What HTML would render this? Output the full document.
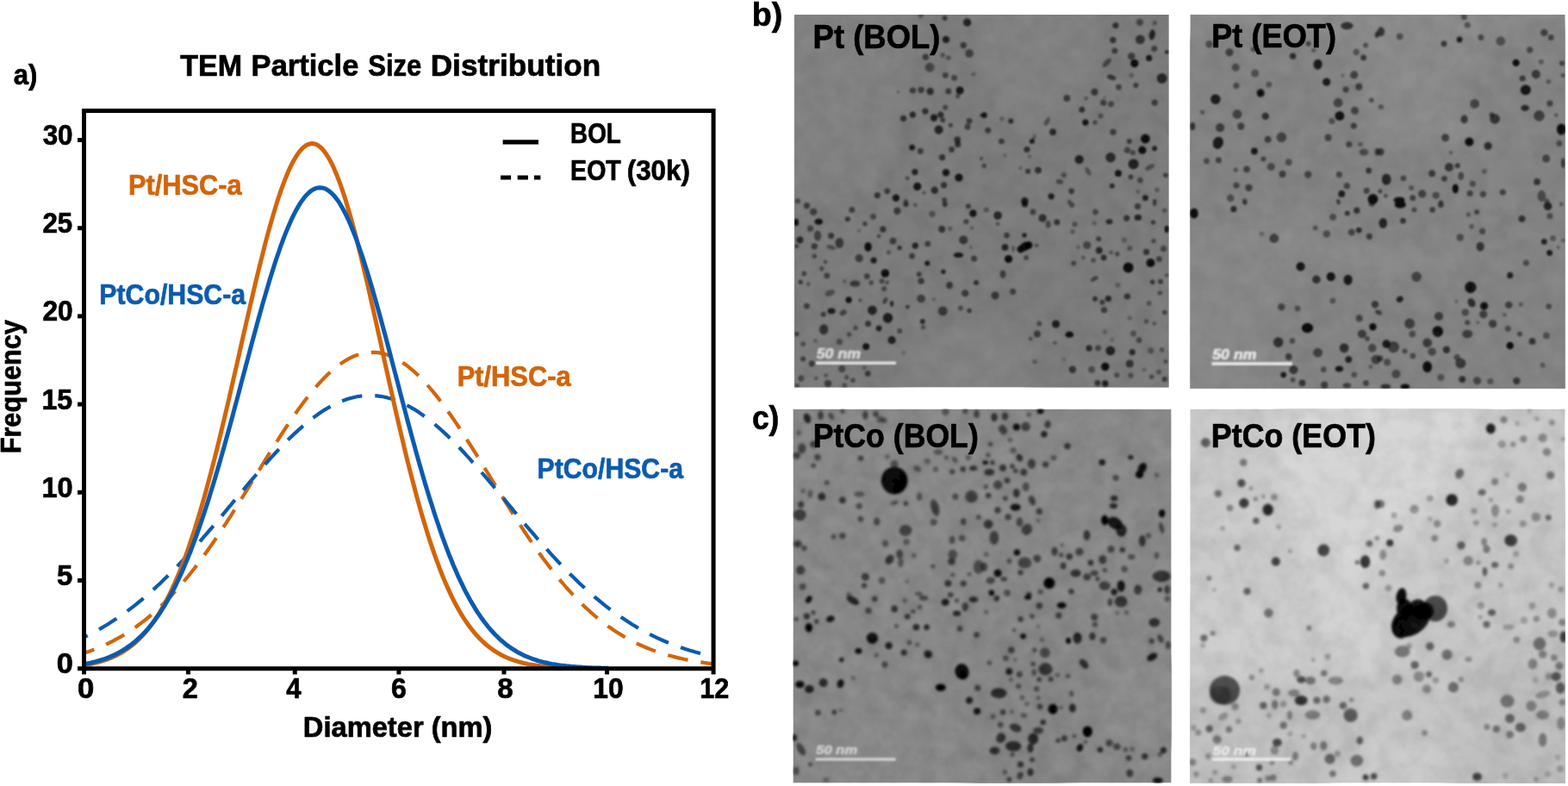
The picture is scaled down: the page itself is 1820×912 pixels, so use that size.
<!DOCTYPE html>
<html lang="en"><head><meta charset="utf-8"><title>TEM Particle Size Distribution</title>
<style>html,body{margin:0;padding:0;background:#fff;overflow:hidden}svg{display:block}text{font-family:"Liberation Sans",sans-serif;font-weight:bold}</style></head><body>
<svg width="1820" height="912" viewBox="0 0 1820 912">
<rect width="1820" height="912" fill="#fff"/>
<defs>
<filter id="pbbl" filterUnits="userSpaceOnUse" x="900" y="0" width="920" height="912"><feGaussianBlur stdDeviation="1.25"/></filter>
<filter id="pbbr" filterUnits="userSpaceOnUse" x="900" y="0" width="920" height="912"><feGaussianBlur stdDeviation="1.25"/></filter>
<filter id="pbcl" filterUnits="userSpaceOnUse" x="900" y="0" width="920" height="912"><feGaussianBlur stdDeviation="1.6"/></filter>
<filter id="pbcr" filterUnits="userSpaceOnUse" x="900" y="0" width="920" height="912"><feGaussianBlur stdDeviation="1.5"/></filter>
<filter id="bg" x="-20%" y="-20%" width="140%" height="140%"><feGaussianBlur stdDeviation="9"/></filter>
<filter id="eb" filterUnits="userSpaceOnUse" x="900" y="0" width="920" height="912"><feGaussianBlur stdDeviation="0.75"/></filter>
<filter id="nz" filterUnits="userSpaceOnUse" x="900" y="0" width="920" height="912"><feTurbulence type="fractalNoise" baseFrequency="0.045" numOctaves="3" seed="7" result="t"/><feColorMatrix in="t" type="matrix" values="0 0 0 0 0  0 0 0 0 0  0 0 0 0 0  1.6 0 0 0 -0.55"/></filter>
<filter id="nw" filterUnits="userSpaceOnUse" x="900" y="0" width="920" height="912"><feTurbulence type="fractalNoise" baseFrequency="0.05" numOctaves="3" seed="23" result="t"/><feColorMatrix in="t" type="matrix" values="0 0 0 0 1  0 0 0 0 1  0 0 0 0 1  0 1.6 0 0 -0.55"/></filter>
<filter id="sb" x="-5%" y="-5%" width="110%" height="110%"><feGaussianBlur stdDeviation="1.0"/></filter>
<clipPath id="cbl"><rect x="922" y="17" width="434.5999999999999" height="432.6"/></clipPath>
<clipPath id="cbr"><rect x="1381.4" y="17" width="435.1999999999998" height="433.8"/></clipPath>
<clipPath id="ccl"><rect x="920.5" y="474.8" width="439.0999999999999" height="433.7"/></clipPath>
<clipPath id="ccr"><rect x="1381.3" y="474.7" width="435.29999999999995" height="433.8"/></clipPath>
</defs>
<g filter="url(#eb)"><g clip-path="url(#cbl)">
<rect x="922" y="17" width="434.5999999999999" height="432.6" fill="#818181"/>
<g filter="url(#bg)">
<polygon points="1064.7,-4.3 1127.5,-4.3 1137.1,63.2 1161.2,130.8 1199.8,145.3 1233.6,121.1 1262.5,87.4 1281.8,-4.3 1383.2,-4.3 1383.2,478.2 1190.2,478.2 1195.0,401.0 1137.1,372.0 1064.7,391.3 1040.6,478.2 900.7,478.2 900.7,227.3 1016.5,217.6 1040.6,135.6" fill="#7a7a7a" opacity="0.85"/>
</g>
<g filter="url(#pbbl)" fill="#000">
<circle cx="1068.9" cy="17.9" r="3.0" opacity="0.37"/>
<circle cx="1096.6" cy="21.0" r="3.0" opacity="0.55"/>
<circle cx="1122.7" cy="25.9" r="4.6" opacity="0.74"/>
<circle cx="1098.0" cy="45.9" r="4.2" opacity="0.78"/>
<circle cx="1118.3" cy="52.4" r="3.6" opacity="0.55"/>
<circle cx="1125.1" cy="62.0" r="4.8" opacity="0.51"/>
<circle cx="1074.4" cy="66.1" r="3.6" opacity="0.55"/>
<circle cx="1094.2" cy="64.0" r="2.7" opacity="0.37"/>
<circle cx="1100.9" cy="66.9" r="2.7" opacity="0.41"/>
<circle cx="1079.2" cy="78.2" r="5.4" opacity="0.46"/>
<circle cx="1097.3" cy="87.4" r="3.4" opacity="0.51"/>
<circle cx="1107.7" cy="90.3" r="3.4" opacity="0.51"/>
<circle cx="1129.9" cy="86.2" r="2.4" opacity="0.28"/>
<circle cx="1059.4" cy="105.0" r="3.6" opacity="0.55"/>
<circle cx="1069.1" cy="104.3" r="3.6" opacity="0.55"/>
<circle cx="1079.7" cy="106.0" r="4.2" opacity="0.64"/>
<circle cx="1100.9" cy="106.0" r="3.4" opacity="0.55"/>
<circle cx="1114.2" cy="105.0" r="4.6" opacity="0.87"/>
<circle cx="1111.8" cy="111.5" r="2.7" opacity="0.46"/>
<circle cx="1042.6" cy="106.7" r="1.8" opacity="0.28"/>
<circle cx="1097.3" cy="124.8" r="3.0" opacity="0.46"/>
<circle cx="1073.9" cy="129.1" r="3.6" opacity="0.64"/>
<circle cx="1059.4" cy="133.2" r="3.6" opacity="0.69"/>
<circle cx="1048.6" cy="137.3" r="3.6" opacity="0.64"/>
<circle cx="1084.1" cy="136.8" r="4.2" opacity="0.78"/>
<circle cx="1091.8" cy="133.2" r="3.6" opacity="0.64"/>
<circle cx="1094.2" cy="139.2" r="3.0" opacity="0.55"/>
<circle cx="1125.1" cy="140.5" r="3.4" opacity="0.55"/>
<circle cx="1123.1" cy="147.2" r="3.4" opacity="0.55"/>
<circle cx="1103.4" cy="145.3" r="2.7" opacity="0.46"/>
<circle cx="1089.6" cy="150.6" r="5.1" opacity="0.78"/>
<circle cx="1139.1" cy="133.7" r="1.8" opacity="0.64"/>
<circle cx="1111.3" cy="162.2" r="3.6" opacity="0.64"/>
<circle cx="1111.8" cy="167.5" r="3.6" opacity="0.64"/>
<circle cx="1104.6" cy="173.5" r="3.4" opacity="0.55"/>
<circle cx="1058.7" cy="171.1" r="3.4" opacity="0.78"/>
<circle cx="1068.4" cy="175.4" r="3.4" opacity="0.55"/>
<circle cx="1093.7" cy="182.7" r="3.6" opacity="0.64"/>
<circle cx="1061.9" cy="199.6" r="3.6" opacity="0.74"/>
<circle cx="1098.0" cy="200.3" r="4.2" opacity="0.83"/>
<circle cx="1113.0" cy="206.1" r="4.6" opacity="0.83"/>
<circle cx="1053.2" cy="206.8" r="2.4" opacity="0.46"/>
<circle cx="1064.8" cy="216.4" r="4.6" opacity="0.87"/>
<circle cx="1095.6" cy="214.8" r="3.6" opacity="0.60"/>
<circle cx="1084.8" cy="220.8" r="4.2" opacity="0.64"/>
<circle cx="1029.8" cy="221.8" r="3.4" opacity="0.55"/>
<circle cx="1018.4" cy="226.6" r="3.6" opacity="0.64"/>
<circle cx="1039.9" cy="229.7" r="4.2" opacity="0.83"/>
<circle cx="1072.5" cy="223.7" r="2.4" opacity="0.37"/>
<circle cx="1096.1" cy="232.1" r="3.0" opacity="0.55"/>
<circle cx="1051.5" cy="233.3" r="2.4" opacity="0.46"/>
<circle cx="926.0" cy="233.3" r="3.0" opacity="0.46"/>
<circle cx="1139.1" cy="183.9" r="1.8" opacity="0.55"/>
<circle cx="1294.9" cy="29.5" r="3.6" opacity="0.64"/>
<circle cx="1322.9" cy="25.9" r="4.2" opacity="0.46"/>
<circle cx="1340.2" cy="26.6" r="2.7" opacity="0.37"/>
<circle cx="1292.0" cy="46.4" r="3.6" opacity="0.64"/>
<circle cx="1323.4" cy="45.9" r="5.4" opacity="0.64"/>
<ellipse cx="1337.3" cy="40.3" rx="3.4" ry="6.0" opacity="0.74" transform="rotate(10.0 1337.3 40.3)"/>
<circle cx="1339.8" cy="56.5" r="3.4" opacity="0.55"/>
<circle cx="1293.9" cy="58.9" r="3.4" opacity="0.55"/>
<circle cx="1354.2" cy="60.4" r="2.2" opacity="0.74"/>
<circle cx="1313.2" cy="65.2" r="4.2" opacity="0.55"/>
<circle cx="1333.7" cy="67.4" r="3.6" opacity="0.83"/>
<circle cx="1316.8" cy="73.6" r="4.6" opacity="0.92"/>
<ellipse cx="1284.8" cy="72.9" rx="3.0" ry="6.6" opacity="0.46" transform="rotate(45.0 1284.8 72.9)"/>
<ellipse cx="1290.1" cy="89.8" rx="5.4" ry="3.0" opacity="0.60" transform="rotate(20.0 1290.1 89.8)"/>
<circle cx="1313.2" cy="87.4" r="2.7" opacity="0.32"/>
<circle cx="1348.7" cy="91.0" r="6.0" opacity="0.69"/>
<circle cx="1318.5" cy="99.0" r="3.0" opacity="0.55"/>
<circle cx="1298.5" cy="101.1" r="3.4" opacity="0.51"/>
<circle cx="1270.3" cy="106.7" r="4.2" opacity="0.60"/>
<circle cx="1238.4" cy="113.9" r="3.9" opacity="0.55"/>
<circle cx="1260.6" cy="114.4" r="2.4" opacity="0.37"/>
<circle cx="1280.7" cy="119.2" r="3.6" opacity="0.51"/>
<circle cx="1289.6" cy="120.7" r="3.4" opacity="0.46"/>
<circle cx="1282.3" cy="112.7" r="1.8" opacity="0.28"/>
<circle cx="1340.2" cy="119.2" r="3.6" opacity="0.55"/>
<circle cx="1255.8" cy="127.2" r="3.4" opacity="0.64"/>
<circle cx="1277.5" cy="134.4" r="3.0" opacity="0.37"/>
<circle cx="1259.9" cy="142.1" r="3.6" opacity="0.87"/>
<circle cx="1271.0" cy="142.1" r="2.7" opacity="0.46"/>
<circle cx="1142.4" cy="133.7" r="3.4" opacity="0.83"/>
<circle cx="1162.9" cy="138.0" r="2.7" opacity="0.28"/>
<circle cx="1173.3" cy="140.5" r="3.0" opacity="0.64"/>
<ellipse cx="1215.3" cy="141.2" rx="2.7" ry="5.4" opacity="0.41" transform="rotate(30.0 1215.3 141.2)"/>
<circle cx="1146.8" cy="151.3" r="3.4" opacity="0.55"/>
<circle cx="1222.0" cy="153.2" r="3.9" opacity="0.69"/>
<circle cx="1292.0" cy="153.2" r="3.6" opacity="0.55"/>
<circle cx="1162.4" cy="164.1" r="3.4" opacity="0.55"/>
<circle cx="1197.9" cy="164.1" r="3.0" opacity="0.78"/>
<ellipse cx="1200.3" cy="159.3" rx="1.8" ry="3.6" opacity="0.37" transform="rotate(20.0 1200.3 159.3)"/>
<circle cx="1191.9" cy="173.5" r="3.6" opacity="0.69"/>
<circle cx="1195.0" cy="181.5" r="2.2" opacity="0.28"/>
<circle cx="1166.5" cy="180.3" r="2.2" opacity="0.23"/>
<circle cx="1142.4" cy="192.3" r="2.7" opacity="0.46"/>
<circle cx="1329.4" cy="161.0" r="5.4" opacity="0.92"/>
<circle cx="1325.8" cy="174.2" r="4.6" opacity="0.92"/>
<circle cx="1340.2" cy="172.3" r="3.0" opacity="0.74"/>
<circle cx="1310.8" cy="163.9" r="3.0" opacity="0.55"/>
<circle cx="1308.4" cy="174.2" r="3.6" opacity="0.51"/>
<circle cx="1314.9" cy="177.1" r="3.0" opacity="0.46"/>
<circle cx="1289.1" cy="182.7" r="5.8" opacity="0.69"/>
<circle cx="1252.7" cy="185.1" r="5.1" opacity="0.74"/>
<circle cx="1315.6" cy="190.4" r="6.0" opacity="0.78"/>
<ellipse cx="1334.9" cy="194.0" rx="6.0" ry="3.0" opacity="0.41" transform="rotate(-30.0 1334.9 194.0)"/>
<circle cx="1298.0" cy="201.2" r="3.9" opacity="0.87"/>
<circle cx="1312.5" cy="205.6" r="3.0" opacity="0.55"/>
<circle cx="1323.4" cy="209.2" r="3.4" opacity="0.46"/>
<circle cx="1353.0" cy="203.2" r="2.7" opacity="0.55"/>
<ellipse cx="1263.0" cy="198.8" rx="2.7" ry="5.4" opacity="0.37" transform="rotate(-30.0 1263.0 198.8)"/>
<circle cx="1205.1" cy="197.6" r="3.9" opacity="0.64"/>
<circle cx="1193.1" cy="198.8" r="3.0" opacity="0.60"/>
<circle cx="1184.6" cy="194.7" r="2.2" opacity="0.28"/>
<circle cx="1234.8" cy="203.2" r="3.0" opacity="0.41"/>
<ellipse cx="1230.0" cy="210.9" rx="4.2" ry="2.7" opacity="0.46" transform="rotate(10.0 1230.0 210.9)"/>
<circle cx="1290.8" cy="215.7" r="3.0" opacity="0.69"/>
<circle cx="1243.7" cy="221.8" r="3.4" opacity="0.60"/>
<circle cx="1220.1" cy="227.8" r="3.6" opacity="0.78"/>
<circle cx="1189.5" cy="233.3" r="4.2" opacity="0.78"/>
<circle cx="1329.4" cy="229.7" r="3.4" opacity="0.74"/>
<circle cx="1343.1" cy="220.1" r="2.7" opacity="0.37"/>
<circle cx="1320.9" cy="222.5" r="2.4" opacity="0.28"/>
<circle cx="1340.2" cy="233.3" r="2.4" opacity="0.55"/>
<circle cx="1241.3" cy="234.5" r="2.4" opacity="0.46"/>
<circle cx="936.4" cy="238.6" r="3.6" opacity="0.55"/>
<circle cx="944.1" cy="245.9" r="4.2" opacity="0.51"/>
<ellipse cx="924.3" cy="257.9" rx="2.7" ry="4.2" opacity="0.87" transform="rotate(0.0 924.3 257.9)"/>
<ellipse cx="950.2" cy="257.2" rx="4.6" ry="3.4" opacity="0.87" transform="rotate(0.0 950.2 257.2)"/>
<circle cx="940.5" cy="265.2" r="3.6" opacity="0.46"/>
<ellipse cx="949.0" cy="273.6" rx="4.2" ry="6.0" opacity="0.51" transform="rotate(0.0 949.0 273.6)"/>
<circle cx="928.4" cy="278.4" r="4.2" opacity="0.69"/>
<circle cx="964.6" cy="273.6" r="3.6" opacity="0.60"/>
<ellipse cx="974.3" cy="282.0" rx="4.8" ry="6.0" opacity="0.55" transform="rotate(0.0 974.3 282.0)"/>
<ellipse cx="964.6" cy="286.9" rx="5.4" ry="2.7" opacity="0.41" transform="rotate(15.0 964.6 286.9)"/>
<circle cx="945.3" cy="285.7" r="3.6" opacity="0.55"/>
<circle cx="924.8" cy="285.7" r="2.4" opacity="0.55"/>
<circle cx="988.8" cy="243.4" r="3.4" opacity="0.55"/>
<circle cx="983.9" cy="254.3" r="3.0" opacity="0.64"/>
<circle cx="1004.0" cy="259.8" r="2.7" opacity="0.55"/>
<circle cx="1013.6" cy="251.4" r="3.4" opacity="0.46"/>
<circle cx="997.2" cy="267.6" r="2.4" opacity="0.23"/>
<circle cx="1024.9" cy="265.9" r="3.6" opacity="0.60"/>
<circle cx="1020.1" cy="274.1" r="2.4" opacity="0.46"/>
<circle cx="1041.4" cy="244.7" r="4.2" opacity="0.55"/>
<circle cx="1051.5" cy="236.9" r="3.0" opacity="0.64"/>
<circle cx="1062.3" cy="237.9" r="2.4" opacity="0.37"/>
<circle cx="1096.8" cy="236.9" r="3.0" opacity="0.64"/>
<circle cx="1082.1" cy="248.3" r="3.6" opacity="0.37"/>
<circle cx="1123.9" cy="239.3" r="3.0" opacity="0.55"/>
<circle cx="1129.4" cy="247.5" r="4.2" opacity="0.87"/>
<circle cx="1121.4" cy="257.2" r="3.0" opacity="0.51"/>
<circle cx="1093.2" cy="265.9" r="3.9" opacity="0.60"/>
<circle cx="1102.9" cy="265.2" r="2.4" opacity="0.37"/>
<circle cx="1128.0" cy="264.4" r="2.2" opacity="0.28"/>
<circle cx="1118.3" cy="278.4" r="5.1" opacity="0.60"/>
<ellipse cx="1007.6" cy="286.4" rx="4.2" ry="5.4" opacity="0.87" transform="rotate(0.0 1007.6 286.4)"/>
<circle cx="1036.5" cy="279.6" r="3.9" opacity="0.55"/>
<circle cx="1044.2" cy="287.6" r="2.7" opacity="0.64"/>
<circle cx="1031.5" cy="292.9" r="2.7" opacity="0.37"/>
<circle cx="1062.3" cy="285.2" r="3.6" opacity="0.74"/>
<circle cx="1076.8" cy="282.8" r="3.4" opacity="0.55"/>
<circle cx="1058.7" cy="297.2" r="3.4" opacity="0.55"/>
<ellipse cx="1112.5" cy="296.0" rx="5.8" ry="3.0" opacity="0.83" transform="rotate(0.0 1112.5 296.0)"/>
<circle cx="1130.6" cy="300.1" r="3.6" opacity="0.55"/>
<circle cx="1127.0" cy="286.9" r="1.8" opacity="0.28"/>
<circle cx="997.2" cy="299.7" r="4.6" opacity="0.55"/>
<circle cx="1014.1" cy="302.1" r="3.6" opacity="0.74"/>
<circle cx="945.3" cy="297.2" r="2.7" opacity="0.46"/>
<circle cx="958.1" cy="303.8" r="2.4" opacity="0.41"/>
<circle cx="953.8" cy="311.7" r="2.7" opacity="0.41"/>
<circle cx="933.3" cy="317.5" r="3.0" opacity="0.51"/>
<circle cx="959.8" cy="319.9" r="3.4" opacity="0.51"/>
<circle cx="929.2" cy="327.2" r="2.7" opacity="0.55"/>
<circle cx="938.1" cy="329.6" r="2.4" opacity="0.37"/>
<circle cx="1076.3" cy="305.4" r="3.0" opacity="0.78"/>
<circle cx="1094.9" cy="315.3" r="2.7" opacity="0.74"/>
<circle cx="1027.4" cy="317.0" r="4.8" opacity="0.92"/>
<circle cx="1006.4" cy="320.6" r="3.4" opacity="0.55"/>
<circle cx="1011.2" cy="327.9" r="2.7" opacity="0.46"/>
<circle cx="1023.7" cy="326.2" r="3.0" opacity="0.46"/>
<circle cx="1029.8" cy="327.9" r="2.4" opacity="0.41"/>
<circle cx="1026.2" cy="335.1" r="3.0" opacity="0.46"/>
<circle cx="1066.7" cy="318.2" r="3.0" opacity="0.55"/>
<circle cx="1069.1" cy="326.2" r="3.6" opacity="0.60"/>
<ellipse cx="992.4" cy="329.1" rx="6.0" ry="3.6" opacity="0.55" transform="rotate(0.0 992.4 329.1)"/>
<circle cx="980.3" cy="326.2" r="2.2" opacity="0.28"/>
<circle cx="1102.1" cy="331.0" r="3.9" opacity="0.55"/>
<circle cx="1133.0" cy="327.9" r="3.0" opacity="0.60"/>
<circle cx="1120.2" cy="340.4" r="4.2" opacity="0.55"/>
<ellipse cx="963.4" cy="339.9" rx="6.0" ry="3.6" opacity="0.41" transform="rotate(-20.0 963.4 339.9)"/>
<circle cx="985.1" cy="347.9" r="3.6" opacity="0.87"/>
<circle cx="998.4" cy="348.4" r="2.2" opacity="0.41"/>
<circle cx="1069.1" cy="346.5" r="4.8" opacity="0.55"/>
<circle cx="1084.1" cy="347.2" r="2.4" opacity="0.23"/>
<ellipse cx="1027.4" cy="348.9" rx="2.4" ry="3.9" opacity="0.51" transform="rotate(30.0 1027.4 348.9)"/>
<ellipse cx="1035.1" cy="352.5" rx="2.2" ry="3.4" opacity="0.64" transform="rotate(0.0 1035.1 352.5)"/>
<circle cx="1053.4" cy="356.1" r="2.4" opacity="0.55"/>
<circle cx="936.4" cy="355.1" r="3.4" opacity="0.55"/>
<ellipse cx="965.1" cy="360.9" rx="4.6" ry="3.4" opacity="0.78" transform="rotate(0.0 965.1 360.9)"/>
<circle cx="955.7" cy="364.8" r="3.0" opacity="0.55"/>
<ellipse cx="978.6" cy="362.9" rx="4.2" ry="3.0" opacity="0.51" transform="rotate(-30.0 978.6 362.9)"/>
<circle cx="1012.4" cy="360.0" r="5.4" opacity="0.74"/>
<circle cx="1094.4" cy="360.9" r="5.4" opacity="0.55"/>
<circle cx="1114.9" cy="357.6" r="3.0" opacity="0.46"/>
<circle cx="1125.1" cy="360.5" r="2.7" opacity="0.60"/>
<circle cx="1030.5" cy="368.9" r="5.8" opacity="0.78"/>
<circle cx="1070.8" cy="373.0" r="3.0" opacity="0.74"/>
<circle cx="1071.5" cy="379.8" r="2.7" opacity="0.41"/>
<circle cx="1007.6" cy="375.7" r="3.6" opacity="0.60"/>
<circle cx="1020.1" cy="381.0" r="3.4" opacity="0.74"/>
<circle cx="993.1" cy="380.5" r="2.7" opacity="0.41"/>
<circle cx="1044.2" cy="383.9" r="3.0" opacity="0.46"/>
<ellipse cx="956.2" cy="382.2" rx="5.1" ry="6.0" opacity="0.64" transform="rotate(0.0 956.2 382.2)"/>
<circle cx="924.8" cy="387.5" r="2.7" opacity="0.51"/>
<circle cx="985.6" cy="388.2" r="2.7" opacity="0.41"/>
<circle cx="1035.1" cy="394.7" r="4.6" opacity="0.74"/>
<circle cx="974.3" cy="396.6" r="3.6" opacity="0.41"/>
<circle cx="932.1" cy="399.1" r="2.7" opacity="0.46"/>
<circle cx="946.5" cy="395.4" r="2.4" opacity="0.28"/>
<circle cx="1005.2" cy="402.2" r="3.9" opacity="0.87"/>
<circle cx="1048.6" cy="409.2" r="2.7" opacity="0.18"/>
<circle cx="932.1" cy="416.4" r="3.0" opacity="0.55"/>
<circle cx="942.2" cy="422.0" r="3.4" opacity="0.55"/>
<circle cx="977.2" cy="428.0" r="4.2" opacity="0.46"/>
<circle cx="1003.2" cy="426.8" r="2.4" opacity="0.32"/>
<circle cx="1007.3" cy="433.6" r="3.4" opacity="0.55"/>
<circle cx="929.7" cy="438.9" r="3.6" opacity="0.46"/>
<circle cx="947.3" cy="438.9" r="2.4" opacity="0.37"/>
<circle cx="982.7" cy="437.7" r="2.7" opacity="0.41"/>
<circle cx="990.0" cy="441.3" r="3.0" opacity="0.46"/>
<circle cx="958.6" cy="435.7" r="2.4" opacity="0.37"/>
<circle cx="961.0" cy="444.9" r="4.2" opacity="0.55"/>
<circle cx="980.3" cy="447.3" r="3.0" opacity="0.37"/>
<circle cx="925.3" cy="447.3" r="2.4" opacity="0.46"/>
<circle cx="1189.5" cy="236.9" r="3.6" opacity="0.74"/>
<circle cx="1144.8" cy="243.4" r="3.0" opacity="0.37"/>
<circle cx="1158.1" cy="250.0" r="4.8" opacity="0.74"/>
<circle cx="1158.1" cy="259.8" r="2.4" opacity="0.37"/>
<circle cx="1199.1" cy="245.9" r="3.4" opacity="0.51"/>
<circle cx="1210.0" cy="253.1" r="4.6" opacity="0.64"/>
<ellipse cx="1216.7" cy="260.3" rx="3.0" ry="4.2" opacity="0.46" transform="rotate(0.0 1216.7 260.3)"/>
<circle cx="1226.9" cy="257.9" r="3.4" opacity="0.64"/>
<circle cx="1244.2" cy="237.9" r="3.0" opacity="0.46"/>
<circle cx="1271.5" cy="245.9" r="3.4" opacity="0.46"/>
<circle cx="1247.4" cy="260.3" r="3.0" opacity="0.41"/>
<circle cx="1244.9" cy="268.8" r="2.7" opacity="0.37"/>
<circle cx="1270.3" cy="259.1" r="2.7" opacity="0.28"/>
<ellipse cx="1287.6" cy="257.2" rx="3.9" ry="3.0" opacity="0.69" transform="rotate(0.0 1287.6 257.2)"/>
<circle cx="1307.7" cy="253.1" r="3.6" opacity="0.60"/>
<ellipse cx="1320.9" cy="252.4" rx="4.2" ry="3.4" opacity="0.78" transform="rotate(0.0 1320.9 252.4)"/>
<circle cx="1320.5" cy="239.3" r="3.6" opacity="0.55"/>
<circle cx="1340.2" cy="236.9" r="2.4" opacity="0.46"/>
<circle cx="1351.8" cy="244.2" r="2.7" opacity="0.37"/>
<circle cx="1338.6" cy="257.9" r="2.7" opacity="0.55"/>
<ellipse cx="1354.2" cy="265.9" rx="2.4" ry="4.2" opacity="0.92" transform="rotate(0.0 1354.2 265.9)"/>
<circle cx="1168.5" cy="273.1" r="3.4" opacity="0.55"/>
<circle cx="1189.0" cy="272.9" r="2.7" opacity="0.74"/>
<circle cx="1166.5" cy="286.9" r="3.9" opacity="0.74"/>
<ellipse cx="1189.5" cy="286.1" rx="7.2" ry="4.8" opacity="0.92" transform="rotate(-30.0 1189.5 286.1)"/>
<circle cx="1184.6" cy="289.3" r="4.2" opacity="0.92"/>
<circle cx="1194.3" cy="284.5" r="4.2" opacity="0.92"/>
<ellipse cx="1176.2" cy="288.6" rx="1.8" ry="3.6" opacity="0.37" transform="rotate(0.0 1176.2 288.6)"/>
<circle cx="1203.2" cy="284.9" r="2.4" opacity="0.37"/>
<circle cx="1170.6" cy="300.6" r="4.6" opacity="0.92"/>
<circle cx="1191.1" cy="298.9" r="3.0" opacity="0.46"/>
<ellipse cx="1164.1" cy="318.2" rx="3.4" ry="4.8" opacity="0.51" transform="rotate(0.0 1164.1 318.2)"/>
<circle cx="1175.7" cy="338.3" r="3.6" opacity="0.51"/>
<circle cx="1155.0" cy="342.8" r="4.6" opacity="0.60"/>
<circle cx="1275.1" cy="277.2" r="3.0" opacity="0.55"/>
<circle cx="1261.8" cy="284.5" r="4.6" opacity="0.51"/>
<circle cx="1251.5" cy="286.9" r="2.2" opacity="0.32"/>
<circle cx="1275.8" cy="290.5" r="3.9" opacity="0.69"/>
<circle cx="1289.6" cy="292.9" r="2.4" opacity="0.37"/>
<circle cx="1296.8" cy="294.8" r="2.7" opacity="0.46"/>
<circle cx="1281.1" cy="298.9" r="3.4" opacity="0.64"/>
<circle cx="1269.1" cy="302.1" r="3.0" opacity="0.41"/>
<circle cx="1257.5" cy="298.9" r="2.2" opacity="0.37"/>
<circle cx="1246.2" cy="305.4" r="3.0" opacity="0.46"/>
<circle cx="1304.8" cy="278.4" r="3.0" opacity="0.28"/>
<circle cx="1311.3" cy="288.1" r="3.0" opacity="0.37"/>
<circle cx="1339.0" cy="279.6" r="2.7" opacity="0.46"/>
<circle cx="1330.6" cy="292.4" r="3.6" opacity="0.60"/>
<circle cx="1350.6" cy="288.6" r="3.6" opacity="0.46"/>
<circle cx="1345.5" cy="300.6" r="3.4" opacity="0.51"/>
<circle cx="1335.4" cy="305.0" r="5.1" opacity="0.92"/>
<circle cx="1309.6" cy="310.5" r="6.0" opacity="0.92"/>
<circle cx="1354.2" cy="319.4" r="2.2" opacity="0.46"/>
<ellipse cx="1270.3" cy="323.5" rx="4.8" ry="2.4" opacity="0.51" transform="rotate(-30.0 1270.3 323.5)"/>
<circle cx="1337.8" cy="327.2" r="2.7" opacity="0.64"/>
<circle cx="1347.0" cy="326.7" r="3.0" opacity="0.55"/>
<circle cx="1297.5" cy="331.0" r="3.0" opacity="0.28"/>
<circle cx="1346.3" cy="339.9" r="2.7" opacity="0.46"/>
<circle cx="1308.4" cy="344.0" r="3.6" opacity="0.60"/>
<circle cx="1271.0" cy="346.7" r="3.0" opacity="0.60"/>
<circle cx="1286.4" cy="346.5" r="3.6" opacity="0.69"/>
<circle cx="1279.4" cy="350.8" r="3.0" opacity="0.55"/>
<circle cx="1333.7" cy="352.0" r="3.0" opacity="0.37"/>
<circle cx="1281.6" cy="359.7" r="3.6" opacity="0.55"/>
<circle cx="1351.8" cy="362.4" r="2.7" opacity="0.55"/>
<circle cx="1311.3" cy="368.9" r="2.7" opacity="0.28"/>
<circle cx="1330.6" cy="373.0" r="2.7" opacity="0.37"/>
<circle cx="1339.8" cy="375.4" r="2.2" opacity="0.37"/>
<circle cx="1206.3" cy="375.4" r="3.0" opacity="0.46"/>
<circle cx="1225.6" cy="376.1" r="4.6" opacity="0.74"/>
<circle cx="1203.9" cy="387.5" r="3.9" opacity="0.55"/>
<circle cx="1196.2" cy="393.0" r="2.4" opacity="0.37"/>
<ellipse cx="1241.3" cy="388.2" rx="4.8" ry="3.6" opacity="0.87" transform="rotate(0.0 1241.3 388.2)"/>
<circle cx="1224.4" cy="397.8" r="2.4" opacity="0.37"/>
<circle cx="1282.3" cy="385.1" r="3.0" opacity="0.23"/>
<circle cx="1315.6" cy="387.0" r="3.4" opacity="0.41"/>
<circle cx="1322.1" cy="394.7" r="3.4" opacity="0.46"/>
<circle cx="1290.8" cy="394.2" r="2.4" opacity="0.23"/>
<circle cx="1264.2" cy="403.9" r="3.6" opacity="0.69"/>
<circle cx="1274.6" cy="403.9" r="3.4" opacity="0.46"/>
<circle cx="1288.9" cy="407.0" r="5.4" opacity="0.74"/>
<circle cx="1314.2" cy="408.7" r="3.6" opacity="0.69"/>
<circle cx="1335.9" cy="406.8" r="3.6" opacity="0.37"/>
<circle cx="1348.7" cy="405.8" r="2.7" opacity="0.41"/>
<circle cx="1201.0" cy="419.6" r="2.7" opacity="0.32"/>
<circle cx="1234.8" cy="417.1" r="2.4" opacity="0.18"/>
<circle cx="1311.3" cy="422.0" r="4.6" opacity="0.60"/>
<circle cx="1282.8" cy="425.6" r="4.8" opacity="0.92"/>
<circle cx="1244.9" cy="428.7" r="4.2" opacity="0.64"/>
<circle cx="1267.1" cy="428.7" r="3.9" opacity="0.46"/>
<circle cx="1353.0" cy="419.6" r="2.4" opacity="0.46"/>
<circle cx="1296.3" cy="435.2" r="3.0" opacity="0.46"/>
<circle cx="1312.5" cy="435.7" r="3.0" opacity="0.41"/>
<circle cx="1336.6" cy="437.2" r="2.7" opacity="0.46"/>
<circle cx="1345.1" cy="431.6" r="3.0" opacity="0.37"/>
<circle cx="1328.2" cy="429.2" r="2.4" opacity="0.28"/>
<circle cx="1351.8" cy="440.1" r="3.0" opacity="0.55"/>
<circle cx="1273.9" cy="444.4" r="3.4" opacity="0.64"/>
<circle cx="1282.8" cy="444.9" r="3.6" opacity="0.78"/>
</g>
<rect x="922" y="17" width="434.5999999999999" height="432.6" filter="url(#nz)" opacity="0.06"/>
<rect x="922" y="17" width="434.5999999999999" height="432.6" filter="url(#nw)" opacity="0.06"/>
<g filter="url(#sb)" opacity="0.8"><rect x="947" y="419.5" width="93" height="3.4" fill="#fff"/>
<text transform="translate(947.77,415.60) scale(1.0737,1)" font-size="16.5" fill="#fff" stroke="#fff" stroke-width="0.7" stroke-linejoin="round" font-style="italic" opacity="0.9">50 nm</text>
</g>
</g></g>
<g filter="url(#eb)"><g clip-path="url(#cbr)">
<rect x="1381.4" y="17" width="435.1999999999998" height="433.8" fill="#8a8a8a"/>
<g filter="url(#bg)">
<polygon points="1360.7,43.9 1524.7,34.3 1582.6,72.9 1587.5,159.7 1524.7,208.0 1500.6,256.2 1360.7,265.9" fill="#818181" opacity="0.8"/>
<polygon points="1524.7,174.2 1621.2,159.7 1746.7,174.2 1756.3,256.2 1717.7,294.8 1582.6,285.2 1515.1,275.5" fill="#818181" opacity="0.8"/>
<polygon points="1688.8,111.5 1746.7,34.3 1843.2,24.6 1843.2,478.2 1476.5,478.2 1466.8,381.7 1505.4,304.5 1630.9,323.8 1717.7,304.5 1766.0,232.1 1746.7,174.2" fill="#818181" opacity="0.8"/>
<polygon points="1360.7,265.9 1500.6,256.2 1505.4,304.5 1466.8,381.7 1476.5,478.2 1360.7,478.2" fill="#868686" opacity="0.7"/>
</g>
<g filter="url(#pbbr)" fill="#000">
<ellipse cx="1563.4" cy="30.0" rx="7.2" ry="4.2" opacity="0.69" transform="rotate(0.0 1563.4 30.0)"/>
<ellipse cx="1598.3" cy="40.3" rx="2.4" ry="3.6" opacity="0.64" transform="rotate(0.0 1598.3 40.3)"/>
<circle cx="1403.6" cy="51.2" r="4.2" opacity="0.46"/>
<circle cx="1427.0" cy="60.8" r="4.6" opacity="0.55"/>
<circle cx="1454.8" cy="57.2" r="3.0" opacity="0.46"/>
<circle cx="1500.6" cy="65.2" r="3.6" opacity="0.69"/>
<circle cx="1518.7" cy="50.7" r="3.0" opacity="0.55"/>
<circle cx="1524.8" cy="58.4" r="2.7" opacity="0.37"/>
<circle cx="1585.1" cy="52.4" r="3.0" opacity="0.46"/>
<circle cx="1574.2" cy="60.4" r="3.6" opacity="0.41"/>
<circle cx="1582.7" cy="66.9" r="3.4" opacity="0.60"/>
<ellipse cx="1529.6" cy="74.8" rx="5.1" ry="6.0" opacity="0.83" transform="rotate(0.0 1529.6 74.8)"/>
<circle cx="1434.3" cy="78.2" r="4.6" opacity="0.46"/>
<circle cx="1456.7" cy="85.0" r="4.6" opacity="0.41"/>
<circle cx="1571.8" cy="86.9" r="4.6" opacity="0.55"/>
<circle cx="1558.5" cy="87.4" r="2.4" opacity="0.28"/>
<circle cx="1539.7" cy="95.1" r="4.6" opacity="0.83"/>
<circle cx="1435.0" cy="99.4" r="3.6" opacity="0.46"/>
<circle cx="1472.9" cy="98.2" r="3.4" opacity="0.41"/>
<circle cx="1577.3" cy="100.6" r="4.2" opacity="0.55"/>
<circle cx="1562.1" cy="103.8" r="3.6" opacity="0.51"/>
<circle cx="1463.2" cy="107.9" r="4.6" opacity="0.87"/>
<circle cx="1410.9" cy="115.1" r="5.8" opacity="0.83"/>
<circle cx="1591.8" cy="116.3" r="3.0" opacity="0.46"/>
<circle cx="1553.2" cy="119.2" r="5.4" opacity="0.51"/>
<circle cx="1572.5" cy="128.4" r="4.6" opacity="0.51"/>
<circle cx="1436.0" cy="132.5" r="5.4" opacity="0.51"/>
<circle cx="1468.8" cy="134.9" r="4.2" opacity="0.64"/>
<circle cx="1554.9" cy="134.4" r="5.4" opacity="0.92"/>
<circle cx="1546.0" cy="140.5" r="3.6" opacity="0.46"/>
<circle cx="1395.7" cy="130.3" r="2.7" opacity="0.37"/>
<ellipse cx="1384.3" cy="146.5" rx="3.0" ry="4.6" opacity="0.64" transform="rotate(0.0 1384.3 146.5)"/>
<circle cx="1416.2" cy="148.2" r="5.1" opacity="0.55"/>
<circle cx="1440.3" cy="146.5" r="4.2" opacity="0.55"/>
<circle cx="1571.3" cy="146.0" r="3.6" opacity="0.55"/>
<circle cx="1487.4" cy="159.3" r="5.8" opacity="0.51"/>
<circle cx="1471.7" cy="161.7" r="3.9" opacity="0.55"/>
<circle cx="1541.6" cy="159.8" r="4.2" opacity="0.51"/>
<ellipse cx="1413.8" cy="165.8" rx="6.0" ry="7.2" opacity="0.83" transform="rotate(20.0 1413.8 165.8)"/>
<circle cx="1565.8" cy="167.5" r="3.6" opacity="0.55"/>
<circle cx="1579.0" cy="167.5" r="2.7" opacity="0.37"/>
<ellipse cx="1583.1" cy="176.6" rx="5.4" ry="4.2" opacity="0.46" transform="rotate(0.0 1583.1 176.6)"/>
<ellipse cx="1598.3" cy="176.2" rx="2.7" ry="4.2" opacity="0.55" transform="rotate(0.0 1598.3 176.2)"/>
<circle cx="1456.0" cy="175.4" r="3.9" opacity="0.83"/>
<circle cx="1400.5" cy="186.8" r="3.4" opacity="0.46"/>
<circle cx="1414.5" cy="185.8" r="3.6" opacity="0.55"/>
<circle cx="1466.4" cy="184.6" r="3.0" opacity="0.51"/>
<circle cx="1495.8" cy="188.2" r="3.9" opacity="0.46"/>
<circle cx="1475.3" cy="193.5" r="4.6" opacity="0.46"/>
<circle cx="1447.1" cy="196.4" r="3.9" opacity="0.55"/>
<circle cx="1434.3" cy="197.1" r="2.7" opacity="0.41"/>
<circle cx="1488.6" cy="202.0" r="3.9" opacity="0.55"/>
<circle cx="1518.2" cy="202.5" r="4.2" opacity="0.51"/>
<circle cx="1554.4" cy="202.7" r="3.6" opacity="0.51"/>
<circle cx="1588.7" cy="197.9" r="3.4" opacity="0.64"/>
<circle cx="1435.0" cy="215.2" r="3.6" opacity="0.51"/>
<circle cx="1449.5" cy="217.7" r="4.2" opacity="0.55"/>
<circle cx="1563.4" cy="215.7" r="3.6" opacity="0.55"/>
<circle cx="1586.3" cy="221.3" r="3.6" opacity="0.55"/>
<circle cx="1557.3" cy="224.9" r="3.9" opacity="0.78"/>
<circle cx="1428.3" cy="229.7" r="4.2" opacity="0.46"/>
<circle cx="1444.7" cy="233.3" r="3.0" opacity="0.46"/>
<circle cx="1593.5" cy="230.9" r="6.0" opacity="0.92"/>
<circle cx="1553.2" cy="233.3" r="2.4" opacity="0.46"/>
<circle cx="1699.4" cy="19.8" r="3.4" opacity="0.46"/>
<circle cx="1703.3" cy="29.0" r="3.6" opacity="0.46"/>
<ellipse cx="1602.9" cy="36.7" rx="4.2" ry="5.4" opacity="0.64" transform="rotate(0.0 1602.9 36.7)"/>
<circle cx="1624.8" cy="42.3" r="3.9" opacity="0.46"/>
<circle cx="1694.1" cy="45.9" r="3.4" opacity="0.78"/>
<circle cx="1676.0" cy="50.7" r="3.4" opacity="0.60"/>
<circle cx="1718.9" cy="43.5" r="3.4" opacity="0.51"/>
<circle cx="1741.9" cy="47.6" r="5.4" opacity="0.46"/>
<circle cx="1792.3" cy="37.9" r="4.2" opacity="0.55"/>
<circle cx="1800.2" cy="43.5" r="3.4" opacity="0.51"/>
<circle cx="1775.6" cy="57.9" r="3.6" opacity="0.51"/>
<circle cx="1759.7" cy="72.9" r="4.2" opacity="0.92"/>
<circle cx="1788.9" cy="71.7" r="3.0" opacity="0.37"/>
<circle cx="1813.0" cy="73.6" r="3.0" opacity="0.55"/>
<circle cx="1782.9" cy="86.2" r="5.1" opacity="0.60"/>
<circle cx="1767.2" cy="91.0" r="3.6" opacity="0.60"/>
<circle cx="1797.3" cy="94.6" r="2.7" opacity="0.37"/>
<circle cx="1814.0" cy="87.4" r="2.4" opacity="0.46"/>
<circle cx="1770.8" cy="104.3" r="6.0" opacity="0.87"/>
<circle cx="1711.7" cy="120.4" r="5.4" opacity="0.51"/>
<circle cx="1602.9" cy="124.0" r="3.0" opacity="0.41"/>
<circle cx="1799.0" cy="119.9" r="3.6" opacity="0.51"/>
<ellipse cx="1770.1" cy="125.3" rx="4.8" ry="3.6" opacity="0.69" transform="rotate(0.0 1770.1 125.3)"/>
<circle cx="1786.5" cy="134.4" r="6.3" opacity="0.55"/>
<circle cx="1806.3" cy="133.7" r="2.2" opacity="0.37"/>
<ellipse cx="1699.6" cy="138.5" rx="4.2" ry="5.1" opacity="0.60" transform="rotate(0.0 1699.6 138.5)"/>
<circle cx="1735.1" cy="138.0" r="5.8" opacity="0.64"/>
<circle cx="1731.5" cy="133.2" r="3.0" opacity="0.55"/>
<ellipse cx="1812.3" cy="150.1" rx="5.4" ry="6.6" opacity="0.92" transform="rotate(0.0 1812.3 150.1)"/>
<circle cx="1677.7" cy="159.8" r="4.6" opacity="0.55"/>
<circle cx="1705.4" cy="164.6" r="5.1" opacity="0.87"/>
<circle cx="1727.1" cy="169.4" r="4.6" opacity="0.69"/>
<circle cx="1809.9" cy="166.5" r="3.4" opacity="0.46"/>
<circle cx="1602.4" cy="176.2" r="4.2" opacity="0.60"/>
<circle cx="1684.0" cy="177.1" r="2.4" opacity="0.32"/>
<circle cx="1794.7" cy="183.9" r="4.6" opacity="0.51"/>
<ellipse cx="1814.2" cy="189.2" rx="2.2" ry="6.0" opacity="0.64" transform="rotate(0.0 1814.2 189.2)"/>
<circle cx="1682.0" cy="194.0" r="5.1" opacity="0.64"/>
<circle cx="1691.7" cy="192.3" r="3.0" opacity="0.64"/>
<circle cx="1723.0" cy="198.8" r="3.0" opacity="0.37"/>
<circle cx="1662.2" cy="201.2" r="3.9" opacity="0.60"/>
<ellipse cx="1609.2" cy="208.0" rx="5.4" ry="6.6" opacity="0.74" transform="rotate(0.0 1609.2 208.0)"/>
<circle cx="1629.0" cy="206.8" r="3.4" opacity="0.51"/>
<circle cx="1676.5" cy="207.3" r="3.4" opacity="0.55"/>
<ellipse cx="1695.8" cy="204.4" rx="3.4" ry="4.8" opacity="0.51" transform="rotate(0.0 1695.8 204.4)"/>
<circle cx="1709.3" cy="213.3" r="3.6" opacity="0.46"/>
<circle cx="1784.1" cy="210.9" r="3.9" opacity="0.60"/>
<ellipse cx="1689.3" cy="218.9" rx="3.6" ry="5.4" opacity="0.92" transform="rotate(0.0 1689.3 218.9)"/>
<circle cx="1638.1" cy="218.1" r="3.0" opacity="0.41"/>
<circle cx="1601.9" cy="222.0" r="2.4" opacity="0.55"/>
<circle cx="1650.7" cy="224.9" r="4.6" opacity="0.51"/>
<circle cx="1666.8" cy="226.6" r="4.2" opacity="0.46"/>
<circle cx="1706.2" cy="224.4" r="3.6" opacity="0.51"/>
<circle cx="1721.4" cy="225.4" r="3.6" opacity="0.51"/>
<circle cx="1744.3" cy="223.0" r="3.6" opacity="0.51"/>
<circle cx="1639.8" cy="229.7" r="3.4" opacity="0.55"/>
<ellipse cx="1624.1" cy="232.1" rx="6.6" ry="3.6" opacity="0.92" transform="rotate(0.0 1624.1 232.1)"/>
<circle cx="1608.4" cy="227.3" r="2.4" opacity="0.46"/>
<ellipse cx="1789.4" cy="227.3" rx="4.8" ry="6.6" opacity="0.46" transform="rotate(0.0 1789.4 227.3)"/>
<circle cx="1795.4" cy="233.3" r="3.0" opacity="0.46"/>
<circle cx="1672.4" cy="234.1" r="2.4" opacity="0.37"/>
<ellipse cx="1386.0" cy="247.5" rx="4.8" ry="6.0" opacity="0.92" transform="rotate(0.0 1386.0 247.5)"/>
<circle cx="1431.9" cy="242.7" r="3.6" opacity="0.74"/>
<circle cx="1445.1" cy="235.7" r="2.4" opacity="0.46"/>
<circle cx="1464.4" cy="271.2" r="2.7" opacity="0.28"/>
<circle cx="1478.9" cy="276.5" r="5.4" opacity="0.55"/>
<circle cx="1526.7" cy="264.4" r="3.0" opacity="0.41"/>
<circle cx="1540.0" cy="271.2" r="4.2" opacity="0.46"/>
<circle cx="1547.2" cy="251.9" r="3.9" opacity="0.46"/>
<circle cx="1563.8" cy="247.5" r="3.0" opacity="0.64"/>
<circle cx="1574.9" cy="244.2" r="3.6" opacity="0.64"/>
<circle cx="1592.3" cy="236.2" r="3.6" opacity="0.55"/>
<circle cx="1553.7" cy="235.7" r="2.4" opacity="0.37"/>
<circle cx="1568.9" cy="269.5" r="3.9" opacity="0.51"/>
<circle cx="1577.3" cy="267.1" r="3.4" opacity="0.69"/>
<circle cx="1589.4" cy="274.3" r="3.6" opacity="0.55"/>
<circle cx="1509.6" cy="309.3" r="5.1" opacity="0.87"/>
<circle cx="1527.9" cy="324.3" r="4.8" opacity="0.64"/>
<circle cx="1544.8" cy="321.1" r="5.1" opacity="0.92"/>
<ellipse cx="1564.6" cy="324.7" rx="5.1" ry="6.0" opacity="0.83" transform="rotate(0.0 1564.6 324.7)"/>
<circle cx="1546.9" cy="348.9" r="3.4" opacity="0.41"/>
<circle cx="1487.4" cy="356.1" r="4.2" opacity="0.51"/>
<circle cx="1506.2" cy="358.0" r="3.4" opacity="0.46"/>
<circle cx="1595.9" cy="353.2" r="4.2" opacity="0.60"/>
<circle cx="1577.8" cy="369.4" r="4.2" opacity="0.51"/>
<circle cx="1598.3" cy="361.7" r="2.4" opacity="0.46"/>
<ellipse cx="1517.5" cy="380.5" rx="6.6" ry="5.8" opacity="0.92" transform="rotate(0.0 1517.5 380.5)"/>
<circle cx="1593.5" cy="379.3" r="4.2" opacity="0.87"/>
<circle cx="1581.0" cy="387.5" r="5.1" opacity="0.55"/>
<circle cx="1587.0" cy="393.0" r="3.0" opacity="0.46"/>
<circle cx="1483.7" cy="397.1" r="5.8" opacity="0.64"/>
<circle cx="1500.1" cy="395.4" r="3.4" opacity="0.46"/>
<circle cx="1560.2" cy="403.9" r="5.4" opacity="0.69"/>
<circle cx="1592.8" cy="403.9" r="4.8" opacity="0.51"/>
<circle cx="1529.6" cy="409.2" r="5.4" opacity="0.55"/>
<circle cx="1495.8" cy="414.0" r="3.9" opacity="0.60"/>
<circle cx="1565.3" cy="417.1" r="3.9" opacity="0.78"/>
<circle cx="1597.1" cy="417.1" r="5.4" opacity="0.55"/>
<circle cx="1591.1" cy="425.6" r="2.4" opacity="0.37"/>
<circle cx="1501.4" cy="429.2" r="5.1" opacity="0.60"/>
<circle cx="1489.8" cy="434.8" r="3.4" opacity="0.83"/>
<circle cx="1536.3" cy="428.7" r="3.4" opacity="0.46"/>
<ellipse cx="1554.4" cy="428.0" rx="4.8" ry="3.6" opacity="0.83" transform="rotate(0.0 1554.4 428.0)"/>
<circle cx="1571.8" cy="434.8" r="3.4" opacity="0.41"/>
<circle cx="1500.6" cy="440.8" r="3.0" opacity="0.46"/>
<circle cx="1511.5" cy="444.4" r="3.9" opacity="0.64"/>
<circle cx="1537.3" cy="446.8" r="4.2" opacity="0.55"/>
<ellipse cx="1563.4" cy="447.3" rx="4.8" ry="3.0" opacity="0.55" transform="rotate(0.0 1563.4 447.3)"/>
<circle cx="1585.5" cy="444.4" r="3.4" opacity="0.55"/>
<ellipse cx="1625.3" cy="237.4" rx="6.6" ry="4.2" opacity="0.92" transform="rotate(0.0 1625.3 237.4)"/>
<circle cx="1641.5" cy="243.4" r="3.0" opacity="0.46"/>
<circle cx="1662.7" cy="243.4" r="3.4" opacity="0.55"/>
<circle cx="1672.4" cy="237.4" r="3.4" opacity="0.60"/>
<ellipse cx="1605.3" cy="259.1" rx="4.8" ry="6.0" opacity="0.74" transform="rotate(0.0 1605.3 259.1)"/>
<circle cx="1628.5" cy="256.2" r="3.4" opacity="0.64"/>
<circle cx="1704.2" cy="249.0" r="2.7" opacity="0.37"/>
<circle cx="1714.1" cy="245.9" r="3.0" opacity="0.51"/>
<circle cx="1708.1" cy="262.7" r="3.0" opacity="0.37"/>
<circle cx="1720.6" cy="268.3" r="3.6" opacity="0.46"/>
<circle cx="1694.8" cy="275.5" r="4.2" opacity="0.46"/>
<ellipse cx="1718.2" cy="286.1" rx="4.6" ry="5.4" opacity="0.64" transform="rotate(0.0 1718.2 286.1)"/>
<circle cx="1766.5" cy="253.8" r="3.9" opacity="0.64"/>
<circle cx="1796.6" cy="239.3" r="4.8" opacity="0.74"/>
<circle cx="1799.0" cy="250.7" r="3.6" opacity="0.46"/>
<circle cx="1812.3" cy="236.9" r="2.4" opacity="0.37"/>
<circle cx="1792.3" cy="280.4" r="3.4" opacity="0.74"/>
<circle cx="1802.7" cy="276.5" r="3.4" opacity="0.41"/>
<circle cx="1814.2" cy="278.9" r="2.2" opacity="0.37"/>
<circle cx="1808.7" cy="286.9" r="2.2" opacity="0.32"/>
<circle cx="1798.6" cy="293.4" r="3.4" opacity="0.78"/>
<circle cx="1771.3" cy="305.0" r="3.6" opacity="0.46"/>
<circle cx="1752.7" cy="319.4" r="3.6" opacity="0.78"/>
<circle cx="1644.1" cy="321.1" r="5.8" opacity="0.51"/>
<circle cx="1706.9" cy="333.4" r="6.6" opacity="0.87"/>
<ellipse cx="1624.8" cy="347.2" rx="4.2" ry="3.4" opacity="0.78" transform="rotate(-30.0 1624.8 347.2)"/>
<circle cx="1690.5" cy="349.6" r="2.2" opacity="0.28"/>
<ellipse cx="1708.1" cy="351.3" rx="4.2" ry="5.4" opacity="0.69" transform="rotate(-30.0 1708.1 351.3)"/>
<circle cx="1722.6" cy="355.1" r="4.6" opacity="0.87"/>
<circle cx="1751.3" cy="353.9" r="4.2" opacity="0.55"/>
<circle cx="1765.3" cy="353.2" r="2.7" opacity="0.32"/>
<circle cx="1797.8" cy="355.6" r="3.4" opacity="0.46"/>
<circle cx="1700.8" cy="362.4" r="4.2" opacity="0.46"/>
<circle cx="1721.8" cy="364.8" r="4.6" opacity="0.55"/>
<circle cx="1746.4" cy="365.3" r="2.4" opacity="0.37"/>
<circle cx="1601.2" cy="362.9" r="3.0" opacity="0.46"/>
<circle cx="1670.0" cy="367.0" r="5.1" opacity="0.55"/>
<circle cx="1703.3" cy="374.2" r="3.0" opacity="0.51"/>
<circle cx="1715.3" cy="374.2" r="2.2" opacity="0.28"/>
<circle cx="1732.7" cy="375.7" r="4.8" opacity="0.55"/>
<circle cx="1636.2" cy="375.4" r="6.0" opacity="0.55"/>
<circle cx="1750.3" cy="381.4" r="3.4" opacity="0.46"/>
<circle cx="1668.8" cy="384.6" r="6.3" opacity="0.87"/>
<ellipse cx="1703.3" cy="387.5" rx="6.0" ry="4.8" opacity="0.55" transform="rotate(0.0 1703.3 387.5)"/>
<circle cx="1639.3" cy="387.5" r="3.9" opacity="0.46"/>
<circle cx="1764.1" cy="387.5" r="3.0" opacity="0.51"/>
<circle cx="1794.9" cy="389.4" r="3.9" opacity="0.41"/>
<circle cx="1778.5" cy="395.9" r="3.9" opacity="0.64"/>
<circle cx="1752.7" cy="401.0" r="4.2" opacity="0.92"/>
<circle cx="1609.2" cy="399.1" r="4.8" opacity="0.83"/>
<circle cx="1617.4" cy="402.7" r="6.6" opacity="0.55"/>
<circle cx="1656.7" cy="397.8" r="5.4" opacity="0.55"/>
<circle cx="1662.2" cy="408.2" r="4.8" opacity="0.51"/>
<circle cx="1678.9" cy="405.8" r="4.2" opacity="0.64"/>
<circle cx="1630.6" cy="407.5" r="3.0" opacity="0.46"/>
<circle cx="1639.8" cy="413.0" r="3.4" opacity="0.46"/>
<circle cx="1601.9" cy="415.9" r="3.6" opacity="0.55"/>
<circle cx="1610.1" cy="420.3" r="4.2" opacity="0.46"/>
<circle cx="1691.2" cy="414.7" r="3.6" opacity="0.51"/>
<circle cx="1695.3" cy="421.5" r="6.0" opacity="0.60"/>
<ellipse cx="1656.7" cy="425.6" rx="5.4" ry="6.6" opacity="0.87" transform="rotate(0.0 1656.7 425.6)"/>
<circle cx="1790.6" cy="423.7" r="3.0" opacity="0.37"/>
<circle cx="1620.5" cy="434.0" r="5.1" opacity="0.46"/>
<circle cx="1672.4" cy="438.1" r="4.2" opacity="0.41"/>
<circle cx="1697.2" cy="440.1" r="3.9" opacity="0.69"/>
<circle cx="1714.6" cy="441.8" r="4.6" opacity="0.51"/>
<circle cx="1729.8" cy="442.5" r="3.6" opacity="0.41"/>
<circle cx="1760.4" cy="442.0" r="4.2" opacity="0.60"/>
<ellipse cx="1630.9" cy="448.5" rx="5.4" ry="3.0" opacity="0.92" transform="rotate(0.0 1630.9 448.5)"/>
<ellipse cx="1608.4" cy="448.5" rx="6.0" ry="3.0" opacity="0.64" transform="rotate(0.0 1608.4 448.5)"/>
</g>
<rect x="1381.4" y="17" width="435.1999999999998" height="433.8" filter="url(#nz)" opacity="0.06"/>
<rect x="1381.4" y="17" width="435.1999999999998" height="433.8" filter="url(#nw)" opacity="0.06"/>
<g filter="url(#sb)" opacity="0.88"><rect x="1406.5" y="420.3" width="93.5" height="3.4" fill="#fff"/>
<text transform="translate(1407.27,416.80) scale(1.0737,1)" font-size="16.5" fill="#fff" stroke="#fff" stroke-width="0.7" stroke-linejoin="round" font-style="italic" opacity="0.9">50 nm</text>
</g>
</g></g>
<g filter="url(#eb)"><g clip-path="url(#ccl)">
<rect x="920.5" y="474.8" width="439.0999999999999" height="433.7" fill="#888888"/>
<g filter="url(#bg)">
<polygon points="1272.2,771.1 1383.2,761.5 1383.2,867.6 1296.3,858.0 1267.4,809.7" fill="#8c8c8c" opacity="0.8"/>
<polygon points="1084.0,703.6 1190.2,689.1 1257.7,742.2 1267.4,858.0 1219.1,935.2 1122.6,935.2 1113.0,809.7" fill="#848484" opacity="0.7"/>
</g>
<g filter="url(#pbcl)" fill="#000">
<ellipse cx="936.9" cy="485.3" rx="4.0" ry="6.0" opacity="0.80" transform="rotate(-20.0 936.9 485.3)"/>
<ellipse cx="952.6" cy="481.7" rx="3.3" ry="5.3" opacity="0.57" transform="rotate(0.0 952.6 481.7)"/>
<ellipse cx="964.6" cy="482.9" rx="2.7" ry="4.6" opacity="0.46" transform="rotate(-30.0 964.6 482.9)"/>
<circle cx="977.9" cy="477.3" r="2.9" opacity="0.46"/>
<ellipse cx="1004.4" cy="481.7" rx="3.3" ry="5.3" opacity="0.57" transform="rotate(0.0 1004.4 481.7)"/>
<circle cx="1016.5" cy="480.4" r="3.3" opacity="0.57"/>
<circle cx="1026.2" cy="487.7" r="3.3" opacity="0.46"/>
<circle cx="1021.3" cy="486.5" r="4.0" opacity="0.40"/>
<circle cx="927.2" cy="502.2" r="2.7" opacity="0.40"/>
<circle cx="944.1" cy="515.4" r="4.0" opacity="0.57"/>
<ellipse cx="930.9" cy="520.3" rx="4.6" ry="6.0" opacity="0.52" transform="rotate(0.0 930.9 520.3)"/>
<circle cx="924.8" cy="528.7" r="4.0" opacity="0.57"/>
<circle cx="949.0" cy="530.6" r="3.7" opacity="0.52"/>
<circle cx="944.1" cy="540.3" r="2.9" opacity="0.52"/>
<circle cx="999.1" cy="531.8" r="3.3" opacity="0.57"/>
<circle cx="1029.8" cy="529.9" r="2.9" opacity="0.34"/>
<circle cx="1038.2" cy="538.3" r="4.6" opacity="0.46"/>
<ellipse cx="1038.2" cy="557.6" rx="15.3" ry="15.9" opacity="1.00" transform="rotate(0.0 1038.2 557.6)"/>
<ellipse cx="1064.8" cy="543.9" rx="4.6" ry="3.3" opacity="0.40" transform="rotate(30.0 1064.8 543.9)"/>
<circle cx="1076.3" cy="535.2" r="3.3" opacity="0.34"/>
<ellipse cx="1088.9" cy="524.6" rx="5.3" ry="3.3" opacity="0.40" transform="rotate(0.0 1088.9 524.6)"/>
<circle cx="1098.5" cy="531.1" r="2.7" opacity="0.40"/>
<circle cx="1086.0" cy="544.4" r="3.3" opacity="0.40"/>
<circle cx="1105.3" cy="547.3" r="3.3" opacity="0.52"/>
<circle cx="1117.8" cy="544.4" r="3.3" opacity="0.57"/>
<ellipse cx="1129.9" cy="543.2" rx="4.6" ry="2.9" opacity="0.69" transform="rotate(0.0 1129.9 543.2)"/>
<ellipse cx="1108.2" cy="533.5" rx="2.7" ry="4.0" opacity="0.40" transform="rotate(-30.0 1108.2 533.5)"/>
<circle cx="1123.9" cy="531.1" r="3.3" opacity="0.40"/>
<circle cx="1097.3" cy="478.0" r="4.0" opacity="0.46"/>
<circle cx="1120.2" cy="477.3" r="3.3" opacity="0.46"/>
<ellipse cx="1133.5" cy="480.4" rx="3.3" ry="4.6" opacity="0.57" transform="rotate(0.0 1133.5 480.4)"/>
<circle cx="959.8" cy="560.1" r="2.9" opacity="0.46"/>
<circle cx="932.1" cy="569.7" r="2.7" opacity="0.34"/>
<ellipse cx="940.5" cy="573.3" rx="2.7" ry="4.6" opacity="0.40" transform="rotate(0.0 940.5 573.3)"/>
<circle cx="953.8" cy="576.2" r="4.6" opacity="0.69"/>
<circle cx="977.9" cy="580.6" r="4.0" opacity="0.63"/>
<ellipse cx="997.2" cy="573.3" rx="6.0" ry="3.3" opacity="0.40" transform="rotate(0.0 997.2 573.3)"/>
<circle cx="997.2" cy="587.3" r="3.7" opacity="0.52"/>
<ellipse cx="1038.2" cy="583.5" rx="4.6" ry="2.4" opacity="0.46" transform="rotate(-20.0 1038.2 583.5)"/>
<circle cx="1051.5" cy="584.2" r="2.9" opacity="0.57"/>
<ellipse cx="1067.2" cy="576.2" rx="3.3" ry="4.6" opacity="0.46" transform="rotate(0.0 1067.2 576.2)"/>
<ellipse cx="1085.3" cy="589.0" rx="4.6" ry="10.0" opacity="0.57" transform="rotate(-15.0 1085.3 589.0)"/>
<circle cx="1108.9" cy="576.2" r="3.7" opacity="0.52"/>
<circle cx="1127.5" cy="576.2" r="7.3" opacity="0.57"/>
<ellipse cx="929.7" cy="585.4" rx="3.3" ry="4.0" opacity="0.57" transform="rotate(0.0 929.7 585.4)"/>
<ellipse cx="928.4" cy="597.5" rx="7.3" ry="6.6" opacity="0.63" transform="rotate(0.0 928.4 597.5)"/>
<circle cx="999.1" cy="602.3" r="3.3" opacity="0.52"/>
<ellipse cx="1017.7" cy="605.2" rx="3.7" ry="4.6" opacity="0.52" transform="rotate(0.0 1017.7 605.2)"/>
<circle cx="1083.6" cy="605.9" r="4.0" opacity="0.46"/>
<ellipse cx="1118.3" cy="605.2" rx="3.3" ry="4.0" opacity="0.52" transform="rotate(0.0 1118.3 605.2)"/>
<circle cx="1135.9" cy="599.9" r="2.9" opacity="0.46"/>
<ellipse cx="1051.0" cy="615.5" rx="7.3" ry="6.4" opacity="0.57" transform="rotate(0.0 1051.0 615.5)"/>
<circle cx="967.5" cy="622.8" r="2.9" opacity="0.46"/>
<circle cx="977.9" cy="621.6" r="3.7" opacity="0.52"/>
<circle cx="1052.2" cy="628.8" r="3.7" opacity="0.40"/>
<circle cx="1027.8" cy="630.7" r="3.7" opacity="0.46"/>
<ellipse cx="1105.3" cy="626.4" rx="3.3" ry="4.6" opacity="0.46" transform="rotate(0.0 1105.3 626.4)"/>
<circle cx="1116.6" cy="624.5" r="3.7" opacity="0.46"/>
<ellipse cx="926.0" cy="631.2" rx="4.6" ry="4.0" opacity="0.57" transform="rotate(0.0 926.0 631.2)"/>
<circle cx="933.3" cy="636.1" r="3.3" opacity="0.52"/>
<circle cx="1060.7" cy="644.5" r="2.9" opacity="0.34"/>
<ellipse cx="1044.2" cy="642.8" rx="4.0" ry="5.3" opacity="0.52" transform="rotate(0.0 1044.2 642.8)"/>
<ellipse cx="1032.7" cy="649.3" rx="4.6" ry="6.0" opacity="0.69" transform="rotate(30.0 1032.7 649.3)"/>
<ellipse cx="1045.5" cy="652.9" rx="3.3" ry="5.3" opacity="0.46" transform="rotate(0.0 1045.5 652.9)"/>
<ellipse cx="1105.8" cy="643.3" rx="5.3" ry="6.0" opacity="0.52" transform="rotate(0.0 1105.8 643.3)"/>
<ellipse cx="1104.6" cy="651.7" rx="4.6" ry="4.0" opacity="0.63" transform="rotate(0.0 1104.6 651.7)"/>
<circle cx="1082.8" cy="657.3" r="2.7" opacity="0.40"/>
<circle cx="929.2" cy="661.4" r="5.3" opacity="0.57"/>
<ellipse cx="1135.9" cy="657.8" rx="6.0" ry="8.0" opacity="0.46" transform="rotate(0.0 1135.9 657.8)"/>
<circle cx="1004.4" cy="669.3" r="4.6" opacity="0.63"/>
<circle cx="1023.7" cy="673.4" r="4.0" opacity="0.46"/>
<circle cx="1003.2" cy="679.5" r="3.3" opacity="0.57"/>
<circle cx="1052.7" cy="674.7" r="2.4" opacity="0.29"/>
<circle cx="931.6" cy="680.7" r="4.0" opacity="0.46"/>
<circle cx="1100.5" cy="677.1" r="4.0" opacity="0.63"/>
<circle cx="1118.3" cy="677.1" r="3.7" opacity="0.57"/>
<circle cx="1105.8" cy="666.9" r="2.7" opacity="0.40"/>
<circle cx="1125.1" cy="666.2" r="2.7" opacity="0.34"/>
<ellipse cx="1066.7" cy="689.1" rx="4.6" ry="2.7" opacity="0.46" transform="rotate(0.0 1066.7 689.1)"/>
<circle cx="1103.4" cy="690.3" r="3.3" opacity="0.57"/>
<circle cx="985.1" cy="690.3" r="3.3" opacity="0.34"/>
<ellipse cx="1207.6" cy="477.3" rx="4.0" ry="2.9" opacity="0.92" transform="rotate(0.0 1207.6 477.3)"/>
<ellipse cx="1154.0" cy="484.1" rx="3.7" ry="5.0" opacity="0.69" transform="rotate(0.0 1154.0 484.1)"/>
<ellipse cx="1166.5" cy="482.9" rx="3.7" ry="4.6" opacity="0.57" transform="rotate(0.0 1166.5 482.9)"/>
<circle cx="1194.3" cy="481.2" r="2.9" opacity="0.40"/>
<circle cx="1179.8" cy="495.6" r="4.0" opacity="0.92"/>
<circle cx="1190.7" cy="494.9" r="5.3" opacity="0.57"/>
<ellipse cx="1164.1" cy="498.5" rx="4.6" ry="6.0" opacity="0.57" transform="rotate(-30.0 1164.1 498.5)"/>
<ellipse cx="1216.0" cy="492.5" rx="3.7" ry="4.6" opacity="0.57" transform="rotate(0.0 1216.0 492.5)"/>
<circle cx="1211.9" cy="503.8" r="3.7" opacity="0.80"/>
<circle cx="1172.6" cy="510.6" r="2.7" opacity="0.46"/>
<circle cx="1149.7" cy="515.4" r="2.9" opacity="0.46"/>
<circle cx="1238.9" cy="517.8" r="3.7" opacity="0.63"/>
<circle cx="1176.2" cy="522.7" r="3.7" opacity="0.40"/>
<circle cx="1146.8" cy="528.0" r="2.7" opacity="0.46"/>
<ellipse cx="1183.4" cy="531.1" rx="3.7" ry="4.6" opacity="0.69" transform="rotate(-30.0 1183.4 531.1)"/>
<circle cx="1223.2" cy="531.1" r="3.3" opacity="0.40"/>
<ellipse cx="1143.6" cy="536.7" rx="3.3" ry="2.4" opacity="0.86" transform="rotate(0.0 1143.6 536.7)"/>
<circle cx="1152.1" cy="536.7" r="2.7" opacity="0.57"/>
<ellipse cx="1197.4" cy="538.3" rx="4.6" ry="6.0" opacity="0.57" transform="rotate(0.0 1197.4 538.3)"/>
<circle cx="1213.6" cy="539.1" r="3.7" opacity="0.57"/>
<circle cx="1164.1" cy="542.7" r="4.0" opacity="0.69"/>
<circle cx="1175.0" cy="540.8" r="2.9" opacity="0.57"/>
<circle cx="1279.4" cy="536.4" r="3.7" opacity="0.80"/>
<ellipse cx="1312.5" cy="530.6" rx="3.3" ry="2.7" opacity="0.80" transform="rotate(0.0 1312.5 530.6)"/>
<ellipse cx="1325.8" cy="543.2" rx="4.6" ry="6.6" opacity="0.92" transform="rotate(30.0 1325.8 543.2)"/>
<circle cx="1322.6" cy="550.4" r="4.6" opacity="1.00"/>
<circle cx="1342.7" cy="551.1" r="2.9" opacity="0.34"/>
<ellipse cx="1148.4" cy="548.0" rx="6.0" ry="4.0" opacity="0.63" transform="rotate(0.0 1148.4 548.0)"/>
<circle cx="1188.3" cy="548.0" r="4.2" opacity="0.57"/>
<circle cx="1178.6" cy="546.3" r="2.7" opacity="0.57"/>
<circle cx="1295.1" cy="554.5" r="3.7" opacity="0.52"/>
<circle cx="1169.0" cy="557.6" r="3.3" opacity="0.57"/>
<circle cx="1158.1" cy="562.5" r="5.3" opacity="0.52"/>
<circle cx="1144.3" cy="564.9" r="2.9" opacity="0.46"/>
<ellipse cx="1190.7" cy="564.9" rx="4.0" ry="5.3" opacity="0.46" transform="rotate(0.0 1190.7 564.9)"/>
<ellipse cx="1179.8" cy="572.1" rx="4.0" ry="5.3" opacity="0.63" transform="rotate(0.0 1179.8 572.1)"/>
<circle cx="1147.2" cy="575.0" r="3.3" opacity="0.63"/>
<circle cx="1167.0" cy="578.2" r="2.7" opacity="0.57"/>
<ellipse cx="1197.9" cy="580.6" rx="3.7" ry="6.0" opacity="0.57" transform="rotate(-20.0 1197.9 580.6)"/>
<ellipse cx="1293.2" cy="578.2" rx="4.2" ry="3.3" opacity="0.75" transform="rotate(0.0 1293.2 578.2)"/>
<ellipse cx="1292.5" cy="587.1" rx="4.6" ry="3.3" opacity="0.75" transform="rotate(0.0 1292.5 587.1)"/>
<ellipse cx="1178.6" cy="588.5" rx="6.0" ry="4.0" opacity="0.92" transform="rotate(0.0 1178.6 588.5)"/>
<circle cx="1158.1" cy="591.9" r="3.7" opacity="0.63"/>
<circle cx="1206.3" cy="593.4" r="3.7" opacity="0.57"/>
<circle cx="1170.2" cy="599.9" r="3.7" opacity="0.57"/>
<ellipse cx="1348.7" cy="595.8" rx="3.7" ry="4.6" opacity="1.00" transform="rotate(0.0 1348.7 595.8)"/>
<ellipse cx="1282.3" cy="603.5" rx="4.0" ry="6.0" opacity="0.98" transform="rotate(0.0 1282.3 603.5)"/>
<ellipse cx="1294.4" cy="607.1" rx="9.3" ry="6.6" opacity="0.86" transform="rotate(30.0 1294.4 607.1)"/>
<ellipse cx="1301.6" cy="615.5" rx="6.0" ry="7.3" opacity="0.80" transform="rotate(0.0 1301.6 615.5)"/>
<ellipse cx="1183.4" cy="605.4" rx="4.0" ry="5.3" opacity="0.52" transform="rotate(0.0 1183.4 605.4)"/>
<circle cx="1147.2" cy="608.3" r="5.3" opacity="0.63"/>
<circle cx="1205.1" cy="604.2" r="2.4" opacity="0.34"/>
<ellipse cx="1191.9" cy="614.3" rx="6.0" ry="6.6" opacity="0.57" transform="rotate(30.0 1191.9 614.3)"/>
<ellipse cx="1348.2" cy="612.4" rx="2.7" ry="6.6" opacity="0.57" transform="rotate(-15.0 1348.2 612.4)"/>
<ellipse cx="1261.4" cy="620.9" rx="4.0" ry="6.0" opacity="0.63" transform="rotate(0.0 1261.4 620.9)"/>
<ellipse cx="1154.0" cy="624.0" rx="5.3" ry="8.0" opacity="0.57" transform="rotate(0.0 1154.0 624.0)"/>
<ellipse cx="1325.8" cy="627.6" rx="4.0" ry="6.6" opacity="0.63" transform="rotate(0.0 1325.8 627.6)"/>
<circle cx="1333.0" cy="621.6" r="3.3" opacity="0.40"/>
<circle cx="1232.9" cy="632.4" r="2.4" opacity="0.34"/>
<ellipse cx="1224.0" cy="639.7" rx="3.7" ry="5.3" opacity="0.57" transform="rotate(0.0 1224.0 639.7)"/>
<circle cx="1252.9" cy="640.2" r="4.6" opacity="0.57"/>
<circle cx="1289.6" cy="637.3" r="4.0" opacity="0.52"/>
<circle cx="1302.8" cy="638.0" r="3.3" opacity="0.63"/>
<circle cx="1180.5" cy="640.9" r="3.7" opacity="0.92"/>
<circle cx="1231.7" cy="644.0" r="2.7" opacity="0.52"/>
<circle cx="1241.3" cy="645.7" r="3.7" opacity="0.63"/>
<ellipse cx="1313.2" cy="646.2" rx="4.2" ry="3.3" opacity="0.52" transform="rotate(0.0 1313.2 646.2)"/>
<ellipse cx="1342.7" cy="644.5" rx="2.9" ry="4.0" opacity="0.46" transform="rotate(0.0 1342.7 644.5)"/>
<circle cx="1144.8" cy="643.3" r="2.7" opacity="0.34"/>
<circle cx="1203.9" cy="648.1" r="4.6" opacity="0.57"/>
<ellipse cx="1279.9" cy="649.3" rx="4.6" ry="5.3" opacity="0.57" transform="rotate(0.0 1279.9 649.3)"/>
<circle cx="1265.9" cy="652.9" r="3.3" opacity="0.69"/>
<ellipse cx="1189.5" cy="652.9" rx="8.0" ry="6.6" opacity="0.57" transform="rotate(0.0 1189.5 652.9)"/>
<circle cx="1171.4" cy="651.0" r="2.9" opacity="0.46"/>
<ellipse cx="1234.1" cy="656.6" rx="3.3" ry="4.0" opacity="0.63" transform="rotate(0.0 1234.1 656.6)"/>
<ellipse cx="1142.4" cy="657.8" rx="4.0" ry="5.3" opacity="0.52" transform="rotate(0.0 1142.4 657.8)"/>
<circle cx="1305.3" cy="660.2" r="3.7" opacity="0.46"/>
<circle cx="1282.3" cy="661.4" r="2.7" opacity="0.46"/>
<circle cx="1158.1" cy="665.0" r="4.6" opacity="1.00"/>
<circle cx="1184.6" cy="664.3" r="3.3" opacity="0.57"/>
<ellipse cx="1248.6" cy="665.0" rx="6.0" ry="4.6" opacity="0.69" transform="rotate(0.0 1248.6 665.0)"/>
<ellipse cx="1270.3" cy="665.0" rx="4.6" ry="3.3" opacity="0.57" transform="rotate(0.0 1270.3 665.0)"/>
<ellipse cx="1261.8" cy="669.3" rx="4.6" ry="4.0" opacity="0.57" transform="rotate(0.0 1261.8 669.3)"/>
<ellipse cx="1348.2" cy="668.6" rx="10.6" ry="6.6" opacity="0.69" transform="rotate(0.0 1348.2 668.6)"/>
<ellipse cx="1149.7" cy="673.4" rx="5.3" ry="4.0" opacity="0.57" transform="rotate(0.0 1149.7 673.4)"/>
<ellipse cx="1165.3" cy="671.8" rx="4.0" ry="2.9" opacity="0.57" transform="rotate(0.0 1165.3 671.8)"/>
<circle cx="1217.9" cy="676.6" r="6.6" opacity="1.00"/>
<circle cx="1273.9" cy="671.8" r="2.7" opacity="0.57"/>
<ellipse cx="1282.3" cy="679.5" rx="6.6" ry="5.3" opacity="0.57" transform="rotate(0.0 1282.3 679.5)"/>
<ellipse cx="1301.2" cy="680.0" rx="4.6" ry="6.6" opacity="0.86" transform="rotate(0.0 1301.2 680.0)"/>
<circle cx="1293.2" cy="686.7" r="3.7" opacity="0.80"/>
<ellipse cx="1320.9" cy="684.3" rx="4.6" ry="6.0" opacity="0.63" transform="rotate(0.0 1320.9 684.3)"/>
<circle cx="1243.3" cy="686.2" r="3.3" opacity="0.63"/>
<circle cx="1346.3" cy="684.3" r="2.7" opacity="0.80"/>
<ellipse cx="1354.7" cy="684.3" rx="3.3" ry="5.3" opacity="0.57" transform="rotate(0.0 1354.7 684.3)"/>
<circle cx="1150.9" cy="687.9" r="3.3" opacity="0.92"/>
<circle cx="1169.0" cy="687.9" r="4.0" opacity="0.46"/>
<circle cx="1194.3" cy="690.3" r="3.3" opacity="0.69"/>
<circle cx="1207.6" cy="686.7" r="3.3" opacity="0.46"/>
<ellipse cx="938.8" cy="695.6" rx="3.3" ry="4.6" opacity="0.92" transform="rotate(30.0 938.8 695.6)"/>
<ellipse cx="990.0" cy="696.8" rx="8.0" ry="4.0" opacity="0.75" transform="rotate(30.0 990.0 696.8)"/>
<circle cx="1015.3" cy="694.9" r="3.3" opacity="0.57"/>
<circle cx="1008.1" cy="708.4" r="3.7" opacity="0.52"/>
<circle cx="1038.2" cy="706.5" r="4.0" opacity="0.69"/>
<circle cx="1050.3" cy="696.8" r="2.9" opacity="0.34"/>
<ellipse cx="1072.0" cy="693.9" rx="5.3" ry="2.9" opacity="0.57" transform="rotate(0.0 1072.0 693.9)"/>
<ellipse cx="1097.3" cy="698.8" rx="4.6" ry="4.0" opacity="0.80" transform="rotate(0.0 1097.3 698.8)"/>
<circle cx="1110.6" cy="696.8" r="2.7" opacity="0.46"/>
<ellipse cx="1120.2" cy="704.1" rx="4.0" ry="5.3" opacity="0.57" transform="rotate(0.0 1120.2 704.1)"/>
<ellipse cx="1129.9" cy="695.6" rx="5.3" ry="3.3" opacity="0.69" transform="rotate(0.0 1129.9 695.6)"/>
<ellipse cx="1110.6" cy="711.8" rx="4.6" ry="3.3" opacity="0.80" transform="rotate(0.0 1110.6 711.8)"/>
<circle cx="1059.9" cy="709.4" r="2.7" opacity="0.46"/>
<circle cx="1067.6" cy="704.5" r="2.7" opacity="0.40"/>
<circle cx="1053.2" cy="715.6" r="3.3" opacity="0.63"/>
<circle cx="936.4" cy="714.9" r="3.7" opacity="0.63"/>
<circle cx="944.1" cy="710.8" r="2.7" opacity="0.57"/>
<circle cx="924.3" cy="718.5" r="2.7" opacity="0.46"/>
<circle cx="947.7" cy="721.0" r="2.9" opacity="0.57"/>
<ellipse cx="963.9" cy="718.1" rx="5.0" ry="3.7" opacity="0.86" transform="rotate(-20.0 963.9 718.1)"/>
<ellipse cx="938.8" cy="728.2" rx="4.2" ry="5.3" opacity="0.98" transform="rotate(0.0 938.8 728.2)"/>
<circle cx="1040.6" cy="726.5" r="2.7" opacity="0.40"/>
<ellipse cx="1063.5" cy="727.7" rx="4.0" ry="3.7" opacity="0.80" transform="rotate(0.0 1063.5 727.7)"/>
<circle cx="1075.6" cy="727.7" r="3.3" opacity="0.80"/>
<circle cx="1114.2" cy="729.4" r="3.3" opacity="0.52"/>
<circle cx="1133.5" cy="736.6" r="3.3" opacity="0.57"/>
<circle cx="1012.4" cy="740.3" r="6.6" opacity="0.92"/>
<circle cx="1031.7" cy="749.2" r="4.2" opacity="0.80"/>
<circle cx="1055.6" cy="745.6" r="2.9" opacity="0.46"/>
<circle cx="1064.8" cy="748.0" r="2.9" opacity="0.34"/>
<ellipse cx="996.5" cy="755.4" rx="4.0" ry="3.3" opacity="0.92" transform="rotate(0.0 996.5 755.4)"/>
<circle cx="1049.1" cy="757.1" r="3.7" opacity="0.69"/>
<ellipse cx="1077.3" cy="759.1" rx="5.0" ry="4.6" opacity="0.80" transform="rotate(30.0 1077.3 759.1)"/>
<circle cx="1017.2" cy="760.3" r="2.7" opacity="0.40"/>
<circle cx="976.7" cy="765.6" r="2.9" opacity="0.80"/>
<circle cx="923.6" cy="769.7" r="3.3" opacity="0.98"/>
<circle cx="1026.9" cy="771.1" r="3.7" opacity="0.52"/>
<ellipse cx="1116.6" cy="779.3" rx="8.0" ry="9.3" opacity="1.00" transform="rotate(-15.0 1116.6 779.3)"/>
<circle cx="990.0" cy="786.6" r="2.7" opacity="0.34"/>
<circle cx="955.7" cy="792.1" r="5.0" opacity="0.75"/>
<ellipse cx="975.5" cy="793.3" rx="4.0" ry="5.3" opacity="0.86" transform="rotate(20.0 975.5 793.3)"/>
<ellipse cx="928.4" cy="794.1" rx="5.3" ry="4.0" opacity="0.98" transform="rotate(0.0 928.4 794.1)"/>
<ellipse cx="939.3" cy="799.4" rx="5.3" ry="4.6" opacity="0.80" transform="rotate(0.0 939.3 799.4)"/>
<ellipse cx="1091.8" cy="797.7" rx="6.0" ry="4.2" opacity="0.98" transform="rotate(0.0 1091.8 797.7)"/>
<circle cx="1134.7" cy="798.2" r="3.7" opacity="0.57"/>
<circle cx="1125.1" cy="812.6" r="4.2" opacity="0.80"/>
<circle cx="1134.2" cy="825.2" r="4.0" opacity="0.86"/>
<circle cx="949.4" cy="827.1" r="3.3" opacity="0.57"/>
<circle cx="968.3" cy="826.4" r="2.9" opacity="0.57"/>
<circle cx="976.0" cy="824.2" r="2.0" opacity="0.34"/>
<ellipse cx="922.4" cy="856.1" rx="2.4" ry="4.0" opacity="0.80" transform="rotate(0.0 922.4 856.1)"/>
<ellipse cx="929.7" cy="869.3" rx="4.0" ry="8.0" opacity="0.57" transform="rotate(-30.0 929.7 869.3)"/>
<circle cx="940.5" cy="886.9" r="2.7" opacity="0.52"/>
<ellipse cx="924.3" cy="894.7" rx="3.3" ry="4.6" opacity="0.46" transform="rotate(0.0 924.3 894.7)"/>
<ellipse cx="958.6" cy="904.8" rx="4.0" ry="2.4" opacity="0.34" transform="rotate(0.0 958.6 904.8)"/>
<circle cx="1156.9" cy="694.4" r="3.3" opacity="0.69"/>
<ellipse cx="1193.1" cy="693.2" rx="4.0" ry="2.7" opacity="0.92" transform="rotate(0.0 1193.1 693.2)"/>
<circle cx="1206.3" cy="702.9" r="3.7" opacity="0.57"/>
<ellipse cx="1232.2" cy="702.4" rx="5.3" ry="3.7" opacity="0.92" transform="rotate(0.0 1232.2 702.4)"/>
<ellipse cx="1288.4" cy="698.8" rx="2.9" ry="4.6" opacity="0.57" transform="rotate(0.0 1288.4 698.8)"/>
<ellipse cx="1301.2" cy="698.0" rx="7.3" ry="6.6" opacity="0.63" transform="rotate(0.0 1301.2 698.0)"/>
<circle cx="1354.7" cy="694.9" r="3.3" opacity="0.46"/>
<circle cx="1144.8" cy="710.1" r="2.7" opacity="0.34"/>
<circle cx="1184.6" cy="718.5" r="3.3" opacity="0.57"/>
<circle cx="1197.9" cy="714.9" r="2.9" opacity="0.46"/>
<circle cx="1228.8" cy="714.2" r="3.7" opacity="0.57"/>
<circle cx="1270.3" cy="716.1" r="4.0" opacity="0.57"/>
<circle cx="1271.0" cy="724.6" r="3.3" opacity="0.46"/>
<circle cx="1296.8" cy="711.3" r="2.7" opacity="0.29"/>
<circle cx="1307.7" cy="710.8" r="2.7" opacity="0.34"/>
<ellipse cx="1339.8" cy="722.2" rx="6.4" ry="5.3" opacity="0.69" transform="rotate(0.0 1339.8 722.2)"/>
<circle cx="1176.9" cy="731.1" r="2.4" opacity="0.46"/>
<circle cx="1205.1" cy="727.0" r="2.0" opacity="0.34"/>
<circle cx="1187.5" cy="738.3" r="3.3" opacity="0.92"/>
<ellipse cx="1240.1" cy="743.4" rx="2.9" ry="3.7" opacity="1.00" transform="rotate(0.0 1240.1 743.4)"/>
<ellipse cx="1250.5" cy="740.3" rx="5.0" ry="6.6" opacity="0.80" transform="rotate(0.0 1250.5 740.3)"/>
<ellipse cx="1267.9" cy="738.3" rx="3.7" ry="4.6" opacity="0.63" transform="rotate(0.0 1267.9 738.3)"/>
<circle cx="1280.7" cy="742.7" r="3.7" opacity="0.52"/>
<circle cx="1209.5" cy="742.2" r="2.7" opacity="0.34"/>
<circle cx="1336.6" cy="743.9" r="3.3" opacity="0.52"/>
<ellipse cx="1347.0" cy="741.0" rx="3.3" ry="5.3" opacity="0.52" transform="rotate(-30.0 1347.0 741.0)"/>
<ellipse cx="1355.9" cy="748.7" rx="2.7" ry="4.6" opacity="0.57" transform="rotate(0.0 1355.9 748.7)"/>
<circle cx="1173.8" cy="754.2" r="3.7" opacity="0.57"/>
<circle cx="1200.8" cy="754.2" r="2.9" opacity="0.46"/>
<circle cx="1212.9" cy="757.6" r="6.0" opacity="0.52"/>
<circle cx="1167.3" cy="763.7" r="3.3" opacity="0.46"/>
<ellipse cx="1337.3" cy="762.4" rx="6.6" ry="4.0" opacity="0.86" transform="rotate(-30.0 1337.3 762.4)"/>
<circle cx="1148.4" cy="769.2" r="2.7" opacity="0.46"/>
<circle cx="1178.6" cy="765.6" r="2.4" opacity="0.34"/>
<circle cx="1199.1" cy="770.4" r="2.7" opacity="0.52"/>
<ellipse cx="1258.2" cy="770.4" rx="4.0" ry="6.6" opacity="0.69" transform="rotate(-40.0 1258.2 770.4)"/>
<ellipse cx="1213.6" cy="776.4" rx="8.0" ry="7.3" opacity="0.63" transform="rotate(0.0 1213.6 776.4)"/>
<circle cx="1171.4" cy="779.3" r="4.0" opacity="0.80"/>
<circle cx="1183.4" cy="782.5" r="3.7" opacity="0.52"/>
<ellipse cx="1200.3" cy="780.1" rx="2.9" ry="4.0" opacity="0.46" transform="rotate(0.0 1200.3 780.1)"/>
<circle cx="1239.6" cy="784.4" r="2.9" opacity="0.40"/>
<circle cx="1227.6" cy="783.2" r="2.4" opacity="0.40"/>
<circle cx="1219.6" cy="788.0" r="2.9" opacity="0.57"/>
<circle cx="1206.3" cy="788.5" r="2.9" opacity="0.52"/>
<circle cx="1173.3" cy="788.5" r="2.4" opacity="0.40"/>
<circle cx="1182.2" cy="796.2" r="2.9" opacity="0.46"/>
<circle cx="1203.2" cy="799.4" r="3.3" opacity="0.46"/>
<ellipse cx="1159.3" cy="804.2" rx="9.3" ry="6.0" opacity="0.75" transform="rotate(0.0 1159.3 804.2)"/>
<ellipse cx="1243.7" cy="804.9" rx="2.4" ry="3.3" opacity="0.46" transform="rotate(0.0 1243.7 804.9)"/>
<circle cx="1186.6" cy="809.5" r="2.9" opacity="0.40"/>
<circle cx="1205.1" cy="809.7" r="2.4" opacity="0.46"/>
<circle cx="1191.9" cy="816.7" r="2.9" opacity="0.34"/>
<circle cx="1207.1" cy="819.9" r="3.3" opacity="0.57"/>
<ellipse cx="1222.0" cy="822.8" rx="5.6" ry="6.0" opacity="1.00" transform="rotate(0.0 1222.0 822.8)"/>
<ellipse cx="1244.9" cy="821.6" rx="4.0" ry="5.0" opacity="0.80" transform="rotate(0.0 1244.9 821.6)"/>
<circle cx="1231.7" cy="821.1" r="2.4" opacity="0.34"/>
<circle cx="1164.1" cy="826.4" r="3.3" opacity="0.57"/>
<circle cx="1174.3" cy="825.9" r="2.4" opacity="0.34"/>
<circle cx="1152.5" cy="831.4" r="2.9" opacity="0.40"/>
<ellipse cx="1188.3" cy="830.0" rx="4.0" ry="2.9" opacity="0.40" transform="rotate(0.0 1188.3 830.0)"/>
<circle cx="1210.7" cy="838.0" r="3.3" opacity="0.69"/>
<circle cx="1161.2" cy="841.1" r="3.3" opacity="0.52"/>
<ellipse cx="1178.6" cy="844.5" rx="7.3" ry="4.6" opacity="0.69" transform="rotate(20.0 1178.6 844.5)"/>
<ellipse cx="1262.3" cy="848.8" rx="5.6" ry="6.4" opacity="1.00" transform="rotate(0.0 1262.3 848.8)"/>
<ellipse cx="1205.1" cy="847.6" rx="6.0" ry="4.0" opacity="0.57" transform="rotate(0.0 1205.1 847.6)"/>
<ellipse cx="1161.7" cy="856.1" rx="5.3" ry="6.0" opacity="0.69" transform="rotate(30.0 1161.7 856.1)"/>
<ellipse cx="1199.1" cy="857.3" rx="6.0" ry="6.6" opacity="0.75" transform="rotate(0.0 1199.1 857.3)"/>
<circle cx="1235.3" cy="856.8" r="3.7" opacity="0.63"/>
<circle cx="1228.1" cy="859.2" r="2.9" opacity="0.52"/>
<circle cx="1246.9" cy="854.1" r="2.4" opacity="0.46"/>
<circle cx="1287.6" cy="862.1" r="4.0" opacity="0.57"/>
<circle cx="1296.3" cy="866.2" r="4.0" opacity="0.52"/>
<ellipse cx="1176.2" cy="865.7" rx="9.3" ry="6.0" opacity="0.69" transform="rotate(0.0 1176.2 865.7)"/>
<ellipse cx="1154.5" cy="871.0" rx="6.0" ry="4.6" opacity="0.69" transform="rotate(0.0 1154.5 871.0)"/>
<ellipse cx="1196.0" cy="868.1" rx="3.7" ry="5.3" opacity="0.75" transform="rotate(0.0 1196.0 868.1)"/>
<ellipse cx="1253.4" cy="867.6" rx="3.7" ry="4.6" opacity="0.92" transform="rotate(30.0 1253.4 867.6)"/>
<circle cx="1260.1" cy="860.9" r="2.4" opacity="0.46"/>
<circle cx="1277.0" cy="870.0" r="3.3" opacity="0.69"/>
<circle cx="1306.5" cy="869.8" r="2.9" opacity="0.40"/>
<circle cx="1314.2" cy="869.3" r="2.7" opacity="0.34"/>
<circle cx="1350.4" cy="870.5" r="3.7" opacity="0.75"/>
<circle cx="1346.3" cy="875.4" r="2.7" opacity="0.46"/>
<circle cx="1328.7" cy="877.8" r="3.7" opacity="0.69"/>
<circle cx="1310.1" cy="879.5" r="3.3" opacity="0.57"/>
<circle cx="1197.9" cy="881.4" r="2.9" opacity="0.57"/>
<circle cx="1175.0" cy="875.8" r="2.7" opacity="0.46"/>
<circle cx="1184.6" cy="886.9" r="3.7" opacity="0.63"/>
<ellipse cx="1196.0" cy="895.9" rx="3.7" ry="4.6" opacity="0.69" transform="rotate(0.0 1196.0 895.9)"/>
<circle cx="1166.5" cy="895.9" r="2.7" opacity="0.46"/>
<ellipse cx="1311.3" cy="897.1" rx="4.0" ry="4.6" opacity="0.63" transform="rotate(0.0 1311.3 897.1)"/>
<ellipse cx="1184.1" cy="900.0" rx="3.3" ry="4.6" opacity="0.57" transform="rotate(30.0 1184.1 900.0)"/>
<circle cx="1171.4" cy="904.3" r="2.9" opacity="0.57"/>
<ellipse cx="1343.9" cy="905.5" rx="6.0" ry="3.3" opacity="0.92" transform="rotate(0.0 1343.9 905.5)"/>
</g>
<rect x="920.5" y="474.8" width="439.0999999999999" height="433.7" filter="url(#nz)" opacity="0.09"/>
<rect x="920.5" y="474.8" width="439.0999999999999" height="433.7" filter="url(#nw)" opacity="0.09"/>
<g filter="url(#sb)" opacity="0.62"><rect x="946.5" y="879.3" width="93.0" height="3.4" fill="#fff"/>
<text transform="translate(947.27,874.80) scale(1.0726,1)" font-size="15.5" fill="#fff" stroke="#fff" stroke-width="0.7" stroke-linejoin="round" font-style="italic" opacity="0.9">50 nm</text>
</g>
</g></g>
<g filter="url(#eb)"><g clip-path="url(#ccr)">
<rect x="1381.3" y="474.7" width="435.29999999999995" height="433.8" fill="#cacaca"/>
<g filter="url(#bg)">
<polygon points="1491.0,452.7 1727.4,452.7 1693.6,544.4 1655.0,597.4 1611.6,636.0 1587.5,679.5 1529.6,636.0 1500.6,592.6 1476.5,520.2" fill="#d7d7d7" opacity="0.9"/>
<polygon points="1500.6,616.7 1544.0,616.7 1587.5,689.1 1616.4,761.5 1577.8,790.4 1539.2,742.2 1515.1,679.5" fill="#d3d3d3" opacity="0.8"/>
<polygon points="1360.7,698.8 1491.0,689.1 1505.4,742.2 1476.5,785.6 1360.7,780.8" fill="#d0d0d0" opacity="0.6"/>
<polygon points="1688.8,616.7 1766.0,583.0 1843.2,558.8 1843.2,935.2 1717.7,935.2 1727.4,838.7 1674.3,747.0 1688.8,679.5" fill="#c4c4c4" opacity="0.8"/>
<polygon points="1688.8,771.1 1843.2,742.2 1843.2,935.2 1679.1,935.2" fill="#bcbcbc" opacity="0.8"/>
<polygon points="1587.5,761.5 1679.1,751.8 1727.4,838.7 1717.7,858.0 1597.1,853.1" fill="#c4c4c4" opacity="0.7"/>
<polygon points="1360.7,790.4 1476.5,790.4 1582.6,800.1 1587.5,858.0 1524.7,935.2 1360.7,935.2" fill="#bebebe" opacity="0.8"/>
</g>
<g filter="url(#pbcr)" fill="#000">
<circle cx="1399.3" cy="513.5" r="5.4" opacity="0.54"/>
<circle cx="1443.4" cy="536.7" r="4.1" opacity="0.41"/>
<circle cx="1441.0" cy="560.8" r="4.7" opacity="0.63"/>
<circle cx="1451.9" cy="566.6" r="2.4" opacity="0.32"/>
<circle cx="1413.8" cy="572.8" r="4.1" opacity="0.45"/>
<circle cx="1443.9" cy="583.7" r="5.7" opacity="0.72"/>
<circle cx="1457.2" cy="578.9" r="2.7" opacity="0.36"/>
<circle cx="1466.4" cy="576.2" r="2.4" opacity="0.27"/>
<circle cx="1478.9" cy="576.9" r="3.8" opacity="0.32"/>
<circle cx="1427.5" cy="589.5" r="3.8" opacity="0.36"/>
<ellipse cx="1471.7" cy="591.4" rx="6.1" ry="6.8" opacity="0.81" transform="rotate(0.0 1471.7 591.4)"/>
<circle cx="1457.9" cy="604.2" r="3.8" opacity="0.54"/>
<circle cx="1419.1" cy="613.1" r="3.0" opacity="0.23"/>
<circle cx="1484.2" cy="611.4" r="3.0" opacity="0.23"/>
<circle cx="1436.0" cy="635.6" r="3.8" opacity="0.54"/>
<circle cx="1497.5" cy="639.7" r="2.4" opacity="0.27"/>
<circle cx="1536.3" cy="638.5" r="7.0" opacity="0.68"/>
<circle cx="1480.8" cy="651.7" r="5.1" opacity="0.68"/>
<ellipse cx="1598.3" cy="585.4" rx="3.4" ry="5.4" opacity="0.54" transform="rotate(0.0 1598.3 585.4)"/>
<circle cx="1589.4" cy="630.7" r="3.8" opacity="0.50"/>
<circle cx="1598.3" cy="624.5" r="2.7" opacity="0.36"/>
<ellipse cx="1584.6" cy="651.7" rx="5.7" ry="7.4" opacity="0.77" transform="rotate(0.0 1584.6 651.7)"/>
<circle cx="1575.4" cy="652.5" r="2.7" opacity="0.45"/>
<circle cx="1403.4" cy="671.0" r="3.0" opacity="0.36"/>
<circle cx="1585.5" cy="680.0" r="3.8" opacity="0.54"/>
<circle cx="1447.6" cy="686.2" r="4.1" opacity="0.50"/>
<circle cx="1409.4" cy="684.3" r="2.4" opacity="0.23"/>
<ellipse cx="1730.3" cy="497.3" rx="5.4" ry="6.1" opacity="0.85" transform="rotate(0.0 1730.3 497.3)"/>
<circle cx="1745.5" cy="487.0" r="4.3" opacity="0.36"/>
<circle cx="1761.2" cy="491.3" r="3.0" opacity="0.18"/>
<circle cx="1783.8" cy="486.0" r="2.7" opacity="0.23"/>
<circle cx="1801.4" cy="490.1" r="3.4" opacity="0.32"/>
<circle cx="1774.9" cy="476.8" r="2.7" opacity="0.18"/>
<circle cx="1768.4" cy="509.4" r="4.1" opacity="0.36"/>
<circle cx="1790.6" cy="508.2" r="5.1" opacity="0.36"/>
<circle cx="1743.1" cy="515.4" r="4.7" opacity="0.27"/>
<circle cx="1756.3" cy="515.4" r="3.0" opacity="0.32"/>
<circle cx="1795.4" cy="524.4" r="4.7" opacity="0.36"/>
<circle cx="1814.2" cy="509.4" r="2.4" opacity="0.23"/>
<ellipse cx="1694.1" cy="549.7" rx="4.7" ry="6.1" opacity="0.50" transform="rotate(30.0 1694.1 549.7)"/>
<circle cx="1799.8" cy="551.6" r="4.7" opacity="0.45"/>
<circle cx="1749.1" cy="551.1" r="3.0" opacity="0.18"/>
<circle cx="1735.1" cy="558.9" r="4.1" opacity="0.36"/>
<circle cx="1766.9" cy="565.4" r="5.1" opacity="0.41"/>
<ellipse cx="1720.1" cy="571.4" rx="4.7" ry="3.8" opacity="0.50" transform="rotate(0.0 1720.1 571.4)"/>
<circle cx="1685.2" cy="580.1" r="6.8" opacity="0.85"/>
<circle cx="1659.8" cy="578.2" r="3.8" opacity="0.27"/>
<circle cx="1764.1" cy="579.4" r="4.7" opacity="0.36"/>
<circle cx="1730.3" cy="580.1" r="3.0" opacity="0.23"/>
<circle cx="1602.4" cy="584.9" r="4.7" opacity="0.50"/>
<circle cx="1641.7" cy="590.9" r="5.1" opacity="0.32"/>
<circle cx="1711.0" cy="593.1" r="3.4" opacity="0.27"/>
<ellipse cx="1735.6" cy="592.6" rx="4.7" ry="7.4" opacity="0.32" transform="rotate(0.0 1735.6 592.6)"/>
<circle cx="1750.8" cy="593.4" r="3.0" opacity="0.23"/>
<circle cx="1618.1" cy="597.9" r="3.4" opacity="0.27"/>
<circle cx="1782.9" cy="599.9" r="5.4" opacity="0.32"/>
<circle cx="1797.3" cy="600.6" r="3.4" opacity="0.50"/>
<circle cx="1659.8" cy="602.3" r="2.7" opacity="0.23"/>
<circle cx="1668.3" cy="607.6" r="4.3" opacity="0.32"/>
<circle cx="1713.4" cy="606.6" r="3.4" opacity="0.27"/>
<circle cx="1735.1" cy="609.0" r="3.0" opacity="0.23"/>
<circle cx="1767.7" cy="607.8" r="4.1" opacity="0.27"/>
<ellipse cx="1622.9" cy="613.1" rx="6.1" ry="4.1" opacity="0.36" transform="rotate(-20.0 1622.9 613.1)"/>
<circle cx="1665.1" cy="624.5" r="3.8" opacity="0.36"/>
<ellipse cx="1753.7" cy="627.1" rx="7.4" ry="6.8" opacity="0.72" transform="rotate(0.0 1753.7 627.1)"/>
<circle cx="1613.3" cy="630.0" r="4.1" opacity="0.77"/>
<circle cx="1696.0" cy="632.9" r="4.7" opacity="0.54"/>
<ellipse cx="1722.6" cy="628.8" rx="3.4" ry="4.7" opacity="0.36" transform="rotate(0.0 1722.6 628.8)"/>
<ellipse cx="1725.5" cy="637.3" rx="4.1" ry="4.7" opacity="0.41" transform="rotate(0.0 1725.5 637.3)"/>
<ellipse cx="1605.3" cy="643.8" rx="4.1" ry="6.1" opacity="0.32" transform="rotate(0.0 1605.3 643.8)"/>
<circle cx="1759.7" cy="642.8" r="3.4" opacity="0.23"/>
<circle cx="1679.1" cy="651.0" r="3.0" opacity="0.23"/>
<circle cx="1704.2" cy="650.5" r="5.7" opacity="0.36"/>
<circle cx="1715.8" cy="652.9" r="2.7" opacity="0.27"/>
<ellipse cx="1735.1" cy="655.4" rx="4.1" ry="3.4" opacity="0.54" transform="rotate(0.0 1735.1 655.4)"/>
<circle cx="1753.7" cy="657.0" r="3.4" opacity="0.32"/>
<ellipse cx="1723.5" cy="663.3" rx="3.0" ry="5.4" opacity="0.54" transform="rotate(0.0 1723.5 663.3)"/>
<circle cx="1604.3" cy="665.0" r="3.8" opacity="0.36"/>
<circle cx="1715.3" cy="679.0" r="4.1" opacity="0.32"/>
<circle cx="1741.9" cy="678.8" r="3.0" opacity="0.23"/>
<circle cx="1801.0" cy="679.0" r="3.4" opacity="0.23"/>
<circle cx="1811.8" cy="683.8" r="3.4" opacity="0.27"/>
<circle cx="1611.6" cy="682.4" r="3.8" opacity="0.27"/>
<circle cx="1472.4" cy="711.3" r="5.4" opacity="0.45"/>
<circle cx="1519.4" cy="728.7" r="3.0" opacity="0.41"/>
<circle cx="1407.7" cy="734.7" r="3.0" opacity="0.36"/>
<circle cx="1397.4" cy="740.3" r="4.1" opacity="0.50"/>
<circle cx="1396.4" cy="748.7" r="3.0" opacity="0.23"/>
<circle cx="1541.2" cy="762.0" r="3.4" opacity="0.27"/>
<circle cx="1524.3" cy="765.6" r="2.7" opacity="0.23"/>
<circle cx="1464.0" cy="778.1" r="3.0" opacity="0.23"/>
<circle cx="1452.9" cy="786.1" r="3.4" opacity="0.32"/>
<ellipse cx="1505.0" cy="781.3" rx="3.8" ry="4.7" opacity="0.36" transform="rotate(0.0 1505.0 781.3)"/>
<ellipse cx="1510.3" cy="788.5" rx="5.1" ry="4.1" opacity="0.63" transform="rotate(0.0 1510.3 788.5)"/>
<ellipse cx="1521.1" cy="789.7" rx="6.1" ry="4.7" opacity="0.41" transform="rotate(0.0 1521.1 789.7)"/>
<circle cx="1536.8" cy="781.3" r="3.8" opacity="0.41"/>
<ellipse cx="1550.1" cy="789.7" rx="8.8" ry="4.7" opacity="0.36" transform="rotate(0.0 1550.1 789.7)"/>
<ellipse cx="1421.5" cy="801.0" rx="17.6" ry="16.9" opacity="0.63" transform="rotate(0.0 1421.5 801.0)"/>
<ellipse cx="1416.2" cy="806.6" rx="12.2" ry="10.8" opacity="0.32" transform="rotate(0.0 1416.2 806.6)"/>
<circle cx="1470.5" cy="796.9" r="3.4" opacity="0.27"/>
<circle cx="1481.3" cy="803.0" r="4.7" opacity="0.41"/>
<ellipse cx="1501.8" cy="804.2" rx="6.8" ry="4.1" opacity="0.36" transform="rotate(0.0 1501.8 804.2)"/>
<ellipse cx="1510.3" cy="812.6" rx="7.4" ry="5.7" opacity="0.77" transform="rotate(0.0 1510.3 812.6)"/>
<circle cx="1528.4" cy="812.6" r="4.1" opacity="0.50"/>
<circle cx="1539.7" cy="811.4" r="4.3" opacity="0.45"/>
<circle cx="1568.7" cy="811.9" r="2.7" opacity="0.36"/>
<circle cx="1559.0" cy="818.7" r="4.3" opacity="0.50"/>
<circle cx="1466.4" cy="818.7" r="4.1" opacity="0.54"/>
<ellipse cx="1479.6" cy="817.5" rx="3.8" ry="5.4" opacity="0.41" transform="rotate(0.0 1479.6 817.5)"/>
<circle cx="1489.8" cy="817.0" r="3.8" opacity="0.27"/>
<circle cx="1396.4" cy="824.2" r="3.4" opacity="0.27"/>
<circle cx="1433.6" cy="819.9" r="4.1" opacity="0.32"/>
<circle cx="1567.7" cy="830.0" r="8.1" opacity="0.54"/>
<ellipse cx="1523.5" cy="829.5" rx="8.8" ry="5.4" opacity="0.36" transform="rotate(0.0 1523.5 829.5)"/>
<ellipse cx="1497.0" cy="830.0" rx="3.4" ry="5.4" opacity="0.36" transform="rotate(0.0 1497.0 830.0)"/>
<circle cx="1472.9" cy="830.2" r="2.7" opacity="0.23"/>
<ellipse cx="1419.8" cy="831.4" rx="6.1" ry="4.1" opacity="0.27" transform="rotate(-30.0 1419.8 831.4)"/>
<circle cx="1437.4" cy="836.8" r="3.4" opacity="0.27"/>
<circle cx="1489.8" cy="841.6" r="4.3" opacity="0.45"/>
<circle cx="1403.6" cy="845.7" r="4.1" opacity="0.54"/>
<circle cx="1426.6" cy="846.4" r="3.8" opacity="0.41"/>
<circle cx="1385.3" cy="844.5" r="3.4" opacity="0.27"/>
<circle cx="1390.9" cy="850.0" r="3.4" opacity="0.32"/>
<circle cx="1497.5" cy="851.2" r="3.0" opacity="0.23"/>
<circle cx="1513.2" cy="854.1" r="2.7" opacity="0.23"/>
<circle cx="1412.6" cy="858.0" r="5.1" opacity="0.41"/>
<ellipse cx="1482.5" cy="861.6" rx="5.4" ry="4.7" opacity="0.68" transform="rotate(0.0 1482.5 861.6)"/>
<ellipse cx="1578.3" cy="859.2" rx="3.8" ry="4.7" opacity="0.54" transform="rotate(0.0 1578.3 859.2)"/>
<ellipse cx="1524.8" cy="865.7" rx="3.8" ry="4.7" opacity="0.36" transform="rotate(0.0 1524.8 865.7)"/>
<ellipse cx="1536.3" cy="865.2" rx="4.3" ry="5.4" opacity="0.41" transform="rotate(0.0 1536.3 865.2)"/>
<ellipse cx="1479.4" cy="870.5" rx="4.7" ry="5.4" opacity="0.32" transform="rotate(0.0 1479.4 870.5)"/>
<circle cx="1552.5" cy="874.6" r="3.8" opacity="0.27"/>
<ellipse cx="1503.5" cy="877.3" rx="3.4" ry="5.4" opacity="0.41" transform="rotate(0.0 1503.5 877.3)"/>
<circle cx="1447.6" cy="875.4" r="2.7" opacity="0.45"/>
<circle cx="1402.2" cy="877.3" r="3.4" opacity="0.27"/>
<circle cx="1543.6" cy="880.7" r="6.1" opacity="0.50"/>
<ellipse cx="1574.9" cy="882.6" rx="7.4" ry="6.8" opacity="0.45" transform="rotate(0.0 1574.9 882.6)"/>
<circle cx="1384.3" cy="884.3" r="4.1" opacity="0.36"/>
<circle cx="1476.5" cy="885.0" r="3.0" opacity="0.32"/>
<circle cx="1498.2" cy="885.0" r="2.7" opacity="0.32"/>
<circle cx="1461.5" cy="890.6" r="3.8" opacity="0.59"/>
<circle cx="1431.9" cy="889.8" r="2.7" opacity="0.23"/>
<circle cx="1388.4" cy="898.3" r="3.4" opacity="0.27"/>
<circle cx="1546.9" cy="897.8" r="3.8" opacity="0.45"/>
<circle cx="1410.2" cy="895.9" r="3.0" opacity="0.23"/>
<circle cx="1585.1" cy="901.9" r="3.4" opacity="0.68"/>
<circle cx="1594.7" cy="900.7" r="3.8" opacity="0.63"/>
<ellipse cx="1424.6" cy="904.3" rx="6.1" ry="4.1" opacity="0.36" transform="rotate(0.0 1424.6 904.3)"/>
<circle cx="1471.7" cy="903.1" r="3.4" opacity="0.36"/>
<circle cx="1477.7" cy="902.4" r="3.8" opacity="0.41"/>
<circle cx="1462.0" cy="905.5" r="3.0" opacity="0.41"/>
<circle cx="1405.3" cy="905.5" r="2.7" opacity="0.27"/>
<circle cx="1718.7" cy="702.9" r="4.1" opacity="0.27"/>
<ellipse cx="1731.5" cy="710.8" rx="4.7" ry="3.8" opacity="0.54" transform="rotate(0.0 1731.5 710.8)"/>
<circle cx="1778.5" cy="702.9" r="3.8" opacity="0.27"/>
<circle cx="1718.2" cy="716.1" r="2.7" opacity="0.23"/>
<circle cx="1725.5" cy="724.6" r="4.1" opacity="0.50"/>
<ellipse cx="1684.4" cy="724.6" rx="4.7" ry="3.8" opacity="0.41" transform="rotate(0.0 1684.4 724.6)"/>
<circle cx="1768.9" cy="719.7" r="4.1" opacity="0.23"/>
<circle cx="1783.4" cy="718.1" r="3.8" opacity="0.32"/>
<ellipse cx="1801.4" cy="711.3" rx="5.4" ry="6.1" opacity="0.32" transform="rotate(0.0 1801.4 711.3)"/>
<ellipse cx="1750.8" cy="727.7" rx="6.8" ry="3.4" opacity="0.23" transform="rotate(0.0 1750.8 727.7)"/>
<circle cx="1813.5" cy="722.2" r="4.1" opacity="0.36"/>
<ellipse cx="1802.7" cy="735.4" rx="6.1" ry="4.1" opacity="0.27" transform="rotate(0.0 1802.7 735.4)"/>
<ellipse cx="1814.7" cy="739.0" rx="4.1" ry="6.8" opacity="0.72" transform="rotate(0.0 1814.7 739.0)"/>
<circle cx="1760.4" cy="742.2" r="3.8" opacity="0.32"/>
<circle cx="1787.0" cy="747.0" r="7.4" opacity="0.45"/>
<circle cx="1659.8" cy="749.9" r="4.7" opacity="0.50"/>
<ellipse cx="1627.7" cy="755.9" rx="8.8" ry="6.8" opacity="0.41" transform="rotate(0.0 1627.7 755.9)"/>
<circle cx="1635.7" cy="749.4" r="3.4" opacity="0.27"/>
<circle cx="1679.6" cy="759.6" r="6.1" opacity="0.45"/>
<circle cx="1790.6" cy="759.1" r="4.7" opacity="0.36"/>
<circle cx="1803.9" cy="763.2" r="3.8" opacity="0.36"/>
<ellipse cx="1704.5" cy="764.9" rx="4.1" ry="3.0" opacity="0.32" transform="rotate(0.0 1704.5 764.9)"/>
<ellipse cx="1779.0" cy="770.4" rx="5.4" ry="6.1" opacity="0.36" transform="rotate(0.0 1779.0 770.4)"/>
<circle cx="1642.2" cy="771.6" r="4.7" opacity="0.54"/>
<circle cx="1809.9" cy="772.8" r="4.7" opacity="0.41"/>
<circle cx="1658.6" cy="782.5" r="3.4" opacity="0.50"/>
<circle cx="1647.0" cy="784.9" r="6.1" opacity="0.32"/>
<circle cx="1806.3" cy="784.9" r="5.4" opacity="0.59"/>
<circle cx="1797.8" cy="784.9" r="4.1" opacity="0.27"/>
<circle cx="1621.7" cy="788.5" r="5.7" opacity="0.36"/>
<circle cx="1666.3" cy="789.2" r="3.8" opacity="0.27"/>
<circle cx="1695.8" cy="788.5" r="3.4" opacity="0.27"/>
<circle cx="1782.1" cy="789.2" r="3.4" opacity="0.18"/>
<circle cx="1686.9" cy="797.4" r="6.1" opacity="0.45"/>
<circle cx="1656.0" cy="799.4" r="5.1" opacity="0.32"/>
<ellipse cx="1811.1" cy="798.2" rx="5.4" ry="6.8" opacity="0.54" transform="rotate(0.0 1811.1 798.2)"/>
<ellipse cx="1790.6" cy="805.9" rx="8.8" ry="4.1" opacity="0.27" transform="rotate(-15.0 1790.6 805.9)"/>
<ellipse cx="1749.6" cy="813.4" rx="8.1" ry="7.4" opacity="0.41" transform="rotate(0.0 1749.6 813.4)"/>
<circle cx="1813.5" cy="815.0" r="3.8" opacity="0.36"/>
<circle cx="1777.3" cy="819.1" r="6.1" opacity="0.36"/>
<circle cx="1633.1" cy="830.2" r="6.1" opacity="0.36"/>
<ellipse cx="1790.6" cy="829.5" rx="7.4" ry="5.4" opacity="0.36" transform="rotate(0.0 1790.6 829.5)"/>
<circle cx="1752.5" cy="833.6" r="5.4" opacity="0.50"/>
<ellipse cx="1811.8" cy="839.2" rx="4.7" ry="7.4" opacity="0.32" transform="rotate(0.0 1811.8 839.2)"/>
<circle cx="1725.9" cy="843.5" r="3.4" opacity="0.36"/>
<circle cx="1737.0" cy="845.9" r="4.1" opacity="0.41"/>
<ellipse cx="1764.8" cy="844.0" rx="6.1" ry="5.4" opacity="0.50" transform="rotate(0.0 1764.8 844.0)"/>
<circle cx="1653.6" cy="850.5" r="3.4" opacity="0.32"/>
<circle cx="1752.5" cy="852.4" r="4.3" opacity="0.41"/>
<ellipse cx="1790.6" cy="858.5" rx="4.7" ry="8.1" opacity="0.41" transform="rotate(0.0 1790.6 858.5)"/>
<circle cx="1808.0" cy="879.0" r="3.4" opacity="0.18"/>
<circle cx="1811.1" cy="892.2" r="4.1" opacity="0.23"/>
<ellipse cx="1714.6" cy="901.4" rx="5.4" ry="4.7" opacity="0.68" transform="rotate(0.0 1714.6 901.4)"/>
<circle cx="1747.2" cy="900.0" r="3.4" opacity="0.18"/>
<circle cx="1782.9" cy="904.3" r="2.7" opacity="0.27"/>
<circle cx="1796.6" cy="898.3" r="3.4" opacity="0.18"/>
<ellipse cx="1626.5" cy="692.0" rx="5.9" ry="9.8" opacity="0.95" transform="rotate(10.0 1626.5 692.0)"/>
<ellipse cx="1637.5" cy="720.0" rx="24.1" ry="16.8" opacity="0.95" transform="rotate(-32.0 1637.5 720.0)"/>
<ellipse cx="1630.0" cy="706.0" rx="9.0" ry="11.2" opacity="0.95" transform="rotate(0.0 1630.0 706.0)"/>
<ellipse cx="1666.0" cy="706.0" rx="14.0" ry="15.1" opacity="0.65" transform="rotate(0.0 1666.0 706.0)"/>
<ellipse cx="1653.0" cy="709.0" rx="11.2" ry="10.6" opacity="0.90" transform="rotate(0.0 1653.0 709.0)"/>
<ellipse cx="1626.0" cy="728.0" rx="10.6" ry="12.9" opacity="0.95" transform="rotate(0.0 1626.0 728.0)"/>
<ellipse cx="1645.0" cy="705.0" rx="10.6" ry="9.5" opacity="0.90" transform="rotate(-30.0 1645.0 705.0)"/>
</g>
<rect x="1381.3" y="474.7" width="435.29999999999995" height="433.8" filter="url(#nz)" opacity="0.09"/>
<rect x="1381.3" y="474.7" width="435.29999999999995" height="433.8" filter="url(#nw)" opacity="0.09"/>
<g filter="url(#sb)" opacity="0.7"><rect x="1407" y="879.3" width="91" height="3.4" fill="#fff"/>
<text transform="translate(1407.78,875.60) scale(1.1173,1)" font-size="15.5" fill="#fff" stroke="#fff" stroke-width="0.7" stroke-linejoin="round" font-style="italic" opacity="0.9">50 nm</text>
</g>
</g></g>
<g fill="none" stroke-linejoin="round">
<path d="M97.5,757.7 L100.5,756.7 L103.6,755.7 L106.6,754.6 L109.7,753.4 L112.7,752.2 L115.8,751.0 L118.8,749.6 L121.9,748.3 L124.9,746.8 L127.9,745.4 L131.0,743.8 L134.0,742.2 L137.1,740.5 L140.1,738.8 L143.2,737.0 L146.2,735.1 L149.3,733.2 L152.3,731.2 L155.3,729.1 L158.4,727.0 L161.4,724.7 L164.5,722.4 L167.5,720.1 L170.6,717.6 L173.6,715.1 L176.6,712.5 L179.7,709.8 L182.7,707.0 L185.8,704.2 L188.8,701.3 L191.9,698.2 L194.9,695.1 L198.0,692.0 L201.0,688.7 L204.0,685.4 L207.1,682.0 L210.1,678.5 L213.2,674.9 L216.2,671.2 L219.3,667.5 L222.3,663.7 L225.4,659.8 L228.4,655.8 L231.4,651.8 L234.5,647.7 L237.5,643.5 L240.6,639.2 L243.6,634.9 L246.7,630.5 L249.7,626.1 L252.8,621.6 L255.8,617.0 L258.8,612.4 L261.9,607.8 L264.9,603.0 L268.0,598.3 L271.0,593.5 L274.1,588.7 L277.1,583.8 L280.1,578.9 L283.2,574.0 L286.2,569.1 L289.3,564.1 L292.3,559.2 L295.4,554.2 L298.4,549.2 L301.5,544.3 L304.5,539.3 L307.5,534.4 L310.6,529.4 L313.6,524.6 L316.7,519.7 L319.7,514.9 L322.8,510.1 L325.8,505.3 L328.9,500.6 L331.9,496.0 L334.9,491.4 L338.0,486.9 L341.0,482.5 L344.1,478.2 L347.1,473.9 L350.2,469.8 L353.2,465.7 L356.3,461.7 L359.3,457.9 L362.3,454.1 L365.4,450.5 L368.4,447.0 L371.5,443.6 L374.5,440.4 L377.6,437.3 L380.6,434.3 L383.7,431.5 L386.7,428.8 L389.7,426.3 L392.8,423.9 L395.8,421.8 L398.9,419.7 L401.9,417.9 L405.0,416.2 L408.0,414.6 L411.0,413.3 L414.1,412.1 L417.1,411.1 L420.2,410.3 L423.2,409.6 L426.3,409.2 L429.3,408.9 L432.4,408.8 L435.4,408.9 L438.4,409.2 L441.5,409.6 L444.5,410.3 L447.6,411.1 L450.6,412.1 L453.7,413.3 L456.7,414.6 L459.8,416.2 L462.8,417.9 L465.8,419.7 L468.9,421.8 L471.9,423.9 L475.0,426.3 L478.0,428.8 L481.1,431.5 L484.1,434.3 L487.2,437.3 L490.2,440.4 L493.2,443.6 L496.3,447.0 L499.3,450.5 L502.4,454.1 L505.4,457.9 L508.5,461.7 L511.5,465.7 L514.6,469.8 L517.6,473.9 L520.6,478.2 L523.7,482.5 L526.7,486.9 L529.8,491.4 L532.8,496.0 L535.9,500.6 L538.9,505.3 L541.9,510.1 L545.0,514.9 L548.0,519.7 L551.1,524.6 L554.1,529.4 L557.2,534.4 L560.2,539.3 L563.3,544.3 L566.3,549.2 L569.3,554.2 L572.4,559.2 L575.4,564.1 L578.5,569.1 L581.5,574.0 L584.6,578.9 L587.6,583.8 L590.7,588.7 L593.7,593.5 L596.7,598.3 L599.8,603.0 L602.8,607.8 L605.9,612.4 L608.9,617.0 L612.0,621.6 L615.0,626.1 L618.1,630.5 L621.1,634.9 L624.1,639.2 L627.2,643.5 L630.2,647.7 L633.3,651.8 L636.3,655.8 L639.4,659.8 L642.4,663.7 L645.5,667.5 L648.5,671.2 L651.5,674.9 L654.6,678.5 L657.6,682.0 L660.7,685.4 L663.7,688.7 L666.8,692.0 L669.8,695.1 L672.8,698.2 L675.9,701.3 L678.9,704.2 L682.0,707.0 L685.0,709.8 L688.1,712.5 L691.1,715.1 L694.2,717.6 L697.2,720.1 L700.2,722.4 L703.3,724.7 L706.3,727.0 L709.4,729.1 L712.4,731.2 L715.5,733.2 L718.5,735.1 L721.6,737.0 L724.6,738.8 L727.6,740.5 L730.7,742.2 L733.7,743.8 L736.8,745.4 L739.8,746.8 L742.9,748.3 L745.9,749.6 L749.0,751.0 L752.0,752.2 L755.0,753.4 L758.1,754.6 L761.1,755.7 L764.2,756.7 L767.2,757.7 L770.3,758.7 L773.3,759.6 L776.3,760.5 L779.4,761.3 L782.4,762.1 L785.5,762.9 L788.5,763.6 L791.6,764.3 L794.6,765.0 L797.7,765.6 L800.7,766.2 L803.7,766.8 L806.8,767.3 L809.8,767.8 L812.9,768.3 L815.9,768.7 L819.0,769.2 L822.0,769.6 L825.1,769.9 L828.1,770.3" stroke="#D2650A" stroke-width="4.2" stroke-dasharray="24 15" stroke-dashoffset="11.5"/>
<path d="M97.5,739.3 L100.5,737.9 L103.6,736.4 L106.6,734.8 L109.7,733.2 L112.7,731.5 L115.8,729.8 L118.8,728.1 L121.9,726.3 L124.9,724.5 L127.9,722.6 L131.0,720.6 L134.0,718.6 L137.1,716.6 L140.1,714.5 L143.2,712.4 L146.2,710.2 L149.3,707.9 L152.3,705.6 L155.3,703.3 L158.4,700.9 L161.4,698.4 L164.5,695.9 L167.5,693.3 L170.6,690.7 L173.6,688.1 L176.6,685.4 L179.7,682.6 L182.7,679.8 L185.8,677.0 L188.8,674.1 L191.9,671.1 L194.9,668.1 L198.0,665.1 L201.0,662.0 L204.0,658.9 L207.1,655.7 L210.1,652.5 L213.2,649.2 L216.2,645.9 L219.3,642.6 L222.3,639.2 L225.4,635.8 L228.4,632.4 L231.4,629.0 L234.5,625.5 L237.5,621.9 L240.6,618.4 L243.6,614.8 L246.7,611.3 L249.7,607.7 L252.8,604.0 L255.8,600.4 L258.8,596.8 L261.9,593.1 L264.9,589.4 L268.0,585.8 L271.0,582.1 L274.1,578.4 L277.1,574.8 L280.1,571.1 L283.2,567.5 L286.2,563.8 L289.3,560.2 L292.3,556.6 L295.4,553.0 L298.4,549.5 L301.5,546.0 L304.5,542.5 L307.5,539.0 L310.6,535.6 L313.6,532.2 L316.7,528.8 L319.7,525.5 L322.8,522.3 L325.8,519.0 L328.9,515.9 L331.9,512.8 L334.9,509.8 L338.0,506.8 L341.0,503.9 L344.1,501.1 L347.1,498.3 L350.2,495.6 L353.2,493.0 L356.3,490.5 L359.3,488.0 L362.3,485.6 L365.4,483.4 L368.4,481.2 L371.5,479.1 L374.5,477.1 L377.6,475.1 L380.6,473.3 L383.7,471.6 L386.7,470.0 L389.7,468.5 L392.8,467.1 L395.8,465.8 L398.9,464.6 L401.9,463.5 L405.0,462.6 L408.0,461.7 L411.0,461.0 L414.1,460.3 L417.1,459.8 L420.2,459.4 L423.2,459.1 L426.3,459.0 L429.3,458.9 L432.4,459.0 L435.4,459.1 L438.4,459.4 L441.5,459.8 L444.5,460.3 L447.6,461.0 L450.6,461.7 L453.7,462.6 L456.7,463.5 L459.8,464.6 L462.8,465.8 L465.8,467.1 L468.9,468.5 L471.9,470.0 L475.0,471.6 L478.0,473.3 L481.1,475.1 L484.1,477.1 L487.2,479.1 L490.2,481.2 L493.2,483.4 L496.3,485.6 L499.3,488.0 L502.4,490.5 L505.4,493.0 L508.5,495.6 L511.5,498.3 L514.6,501.1 L517.6,503.9 L520.6,506.8 L523.7,509.8 L526.7,512.8 L529.8,515.9 L532.8,519.0 L535.9,522.3 L538.9,525.5 L541.9,528.8 L545.0,532.2 L548.0,535.6 L551.1,539.0 L554.1,542.5 L557.2,546.0 L560.2,549.5 L563.3,553.0 L566.3,556.6 L569.3,560.2 L572.4,563.8 L575.4,567.5 L578.5,571.1 L581.5,574.8 L584.6,578.4 L587.6,582.1 L590.7,585.8 L593.7,589.4 L596.7,593.1 L599.8,596.8 L602.8,600.4 L605.9,604.0 L608.9,607.7 L612.0,611.3 L615.0,614.8 L618.1,618.4 L621.1,621.9 L624.1,625.5 L627.2,629.0 L630.2,632.4 L633.3,635.8 L636.3,639.2 L639.4,642.6 L642.4,645.9 L645.5,649.2 L648.5,652.5 L651.5,655.7 L654.6,658.9 L657.6,662.0 L660.7,665.1 L663.7,668.1 L666.8,671.1 L669.8,674.1 L672.8,677.0 L675.9,679.8 L678.9,682.6 L682.0,685.4 L685.0,688.1 L688.1,690.7 L691.1,693.3 L694.2,695.9 L697.2,698.4 L700.2,700.9 L703.3,703.3 L706.3,705.6 L709.4,707.9 L712.4,710.2 L715.5,712.4 L718.5,714.5 L721.6,716.6 L724.6,718.6 L727.6,720.6 L730.7,722.6 L733.7,724.5 L736.8,726.3 L739.8,728.1 L742.9,729.8 L745.9,731.5 L749.0,733.2 L752.0,734.8 L755.0,736.4 L758.1,737.9 L761.1,739.3 L764.2,740.8 L767.2,742.1 L770.3,743.5 L773.3,744.8 L776.3,746.0 L779.4,747.2 L782.4,748.4 L785.5,749.6 L788.5,750.6 L791.6,751.7 L794.6,752.7 L797.7,753.7 L800.7,754.7 L803.7,755.6 L806.8,756.5 L809.8,757.3 L812.9,758.2 L815.9,759.0 L819.0,759.7 L822.0,760.4 L825.1,761.2 L828.1,761.8" stroke="#0B5BB0" stroke-width="4.2" stroke-dasharray="24 15" stroke-dashoffset="19.3"/>
<path d="M97.5,771.7 L99.8,771.3 L102.1,770.9 L104.3,770.5 L106.6,770.0 L108.9,769.5 L111.2,769.0 L113.5,768.4 L115.8,767.8 L118.0,767.1 L120.3,766.4 L122.6,765.7 L124.9,764.8 L127.2,764.0 L129.5,763.0 L131.7,762.0 L134.0,761.0 L136.3,759.8 L138.6,758.6 L140.9,757.3 L143.2,756.0 L145.4,754.5 L147.7,753.0 L150.0,751.3 L152.3,749.6 L154.6,747.7 L156.9,745.8 L159.1,743.7 L161.4,741.6 L163.7,739.3 L166.0,736.8 L168.3,734.3 L170.6,731.6 L172.8,728.8 L175.1,725.8 L177.4,722.7 L179.7,719.4 L182.0,715.9 L184.3,712.4 L186.5,708.6 L188.8,704.7 L191.1,700.6 L193.4,696.3 L195.7,691.8 L198.0,687.1 L200.2,682.3 L202.5,677.3 L204.8,672.1 L207.1,666.6 L209.4,661.0 L211.7,655.2 L213.9,649.2 L216.2,643.0 L218.5,636.5 L220.8,629.9 L223.1,623.1 L225.4,616.1 L227.6,608.8 L229.9,601.4 L232.2,593.8 L234.5,586.0 L236.8,578.0 L239.1,569.8 L241.3,561.4 L243.6,552.9 L245.9,544.2 L248.2,535.3 L250.5,526.3 L252.8,517.2 L255.0,507.9 L257.3,498.4 L259.6,488.9 L261.9,479.2 L264.2,469.5 L266.5,459.7 L268.7,449.7 L271.0,439.8 L273.3,429.8 L275.6,419.7 L277.9,409.6 L280.1,399.6 L282.4,389.5 L284.7,379.5 L287.0,369.5 L289.3,359.5 L291.6,349.6 L293.8,339.9 L296.1,330.2 L298.4,320.7 L300.7,311.2 L303.0,302.0 L305.3,292.9 L307.5,284.0 L309.8,275.4 L312.1,266.9 L314.4,258.7 L316.7,250.8 L319.0,243.1 L321.2,235.7 L323.5,228.7 L325.8,221.9 L328.1,215.5 L330.4,209.4 L332.7,203.7 L334.9,198.4 L337.2,193.4 L339.5,188.8 L341.8,184.7 L344.1,180.9 L346.4,177.6 L348.6,174.7 L350.9,172.2 L353.2,170.2 L355.5,168.6 L357.8,167.5 L360.1,166.8 L362.3,166.6 L364.6,166.8 L366.9,167.5 L369.2,168.7 L371.5,170.4 L373.8,172.6 L376.0,175.2 L378.3,178.3 L380.6,181.8 L382.9,185.7 L385.2,190.2 L387.5,195.0 L389.7,200.2 L392.0,205.9 L394.3,211.9 L396.6,218.3 L398.9,225.1 L401.2,232.2 L403.4,239.7 L405.7,247.5 L408.0,255.5 L410.3,263.9 L412.6,272.5 L414.9,281.3 L417.1,290.4 L419.4,299.7 L421.7,309.2 L424.0,318.8 L426.3,328.7 L428.6,338.6 L430.8,348.7 L433.1,358.8 L435.4,369.0 L437.7,379.3 L440.0,389.7 L442.3,400.0 L444.5,410.4 L446.8,420.8 L449.1,431.1 L451.4,441.5 L453.7,451.7 L456.0,461.9 L458.2,472.0 L460.5,482.0 L462.8,491.9 L465.1,501.7 L467.4,511.4 L469.6,520.9 L471.9,530.3 L474.2,539.5 L476.5,548.6 L478.8,557.4 L481.1,566.1 L483.3,574.6 L485.6,582.9 L487.9,591.1 L490.2,599.0 L492.5,606.7 L494.8,614.2 L497.0,621.5 L499.3,628.5 L501.6,635.4 L503.9,642.1 L506.2,648.5 L508.5,654.7 L510.7,660.7 L513.0,666.5 L515.3,672.1 L517.6,677.5 L519.9,682.6 L522.2,687.6 L524.4,692.4 L526.7,697.0 L529.0,701.3 L531.3,705.5 L533.6,709.5 L535.9,713.4 L538.1,717.0 L540.4,720.5 L542.7,723.8 L545.0,727.0 L547.3,730.0 L549.6,732.8 L551.8,735.5 L554.1,738.1 L556.4,740.5 L558.7,742.8 L561.0,745.0 L563.3,747.0 L565.5,749.0 L567.8,750.8 L570.1,752.5 L572.4,754.1 L574.7,755.7 L577.0,757.1 L579.2,758.4 L581.5,759.7 L583.8,760.9 L586.1,762.0 L588.4,763.0 L590.7,764.0 L592.9,764.9 L595.2,765.7 L597.5,766.5 L599.8,767.2 L602.1,767.9 L604.4,768.5 L606.6,769.1 L608.9,769.6 L611.2,770.1 L613.5,770.6 L615.8,771.0 L618.1,771.4 L620.3,771.8 L622.6,772.1 L624.9,772.4 L627.2,772.7 L629.5,773.0 L631.8,773.2 L634.0,773.5 L636.3,773.7 L638.6,773.9 L640.9,774.0 L643.2,774.2 L645.5,774.3" stroke="#D2650A" stroke-width="5.0"/>
<path d="M97.5,770.6 L100.0,770.1 L102.6,769.6 L105.1,769.1 L107.6,768.5 L110.2,767.9 L112.7,767.2 L115.3,766.5 L117.8,765.7 L120.3,764.9 L122.9,764.0 L125.4,763.0 L127.9,762.0 L130.5,760.9 L133.0,759.7 L135.6,758.5 L138.1,757.1 L140.6,755.7 L143.2,754.2 L145.7,752.6 L148.2,750.9 L150.8,749.1 L153.3,747.1 L155.8,745.1 L158.4,743.0 L160.9,740.7 L163.5,738.3 L166.0,735.8 L168.5,733.1 L171.1,730.3 L173.6,727.3 L176.1,724.2 L178.7,720.9 L181.2,717.5 L183.8,713.9 L186.3,710.1 L188.8,706.2 L191.4,702.1 L193.9,697.8 L196.4,693.3 L199.0,688.7 L201.5,683.8 L204.0,678.8 L206.6,673.5 L209.1,668.1 L211.7,662.4 L214.2,656.6 L216.7,650.6 L219.3,644.3 L221.8,637.9 L224.3,631.3 L226.9,624.4 L229.4,617.4 L232.0,610.2 L234.5,602.8 L237.0,595.2 L239.6,587.4 L242.1,579.5 L244.6,571.3 L247.2,563.0 L249.7,554.6 L252.2,546.0 L254.8,537.2 L257.3,528.4 L259.9,519.3 L262.4,510.2 L264.9,501.0 L267.5,491.7 L270.0,482.3 L272.5,472.8 L275.1,463.3 L277.6,453.8 L280.1,444.2 L282.7,434.6 L285.2,425.0 L287.8,415.4 L290.3,405.9 L292.8,396.4 L295.4,387.0 L297.9,377.7 L300.4,368.5 L303.0,359.4 L305.5,350.4 L308.1,341.6 L310.6,333.0 L313.1,324.5 L315.7,316.3 L318.2,308.3 L320.7,300.5 L323.3,293.0 L325.8,285.8 L328.3,278.9 L330.9,272.2 L333.4,265.9 L336.0,259.9 L338.5,254.3 L341.0,249.1 L343.6,244.2 L346.1,239.7 L348.6,235.6 L351.2,231.9 L353.7,228.6 L356.3,225.7 L358.8,223.3 L361.3,221.3 L363.9,219.7 L366.4,218.6 L368.9,217.9 L371.5,217.7 L374.0,217.9 L376.5,218.6 L379.1,219.8 L381.6,221.4 L384.2,223.4 L386.7,225.9 L389.2,228.9 L391.8,232.2 L394.3,236.0 L396.8,240.3 L399.4,244.9 L401.9,249.9 L404.5,255.3 L407.0,261.1 L409.5,267.2 L412.1,273.7 L414.6,280.5 L417.1,287.6 L419.7,295.0 L422.2,302.6 L424.7,310.6 L427.3,318.8 L429.8,327.2 L432.4,335.8 L434.9,344.6 L437.4,353.6 L440.0,362.7 L442.5,372.0 L445.0,381.4 L447.6,390.9 L450.1,400.5 L452.7,410.1 L455.2,419.8 L457.7,429.5 L460.3,439.2 L462.8,448.9 L465.3,458.6 L467.9,468.3 L470.4,477.9 L472.9,487.5 L475.5,497.0 L478.0,506.4 L480.6,515.6 L483.1,524.8 L485.6,533.9 L488.2,542.8 L490.7,551.6 L493.2,560.2 L495.8,568.7 L498.3,577.0 L500.9,585.1 L503.4,593.0 L505.9,600.8 L508.5,608.3 L511.0,615.7 L513.5,622.9 L516.1,629.8 L518.6,636.6 L521.1,643.2 L523.7,649.5 L526.2,655.7 L528.8,661.6 L531.3,667.4 L533.8,672.9 L536.4,678.2 L538.9,683.4 L541.4,688.3 L544.0,693.0 L546.5,697.6 L549.1,701.9 L551.6,706.1 L554.1,710.1 L556.7,713.9 L559.2,717.6 L561.7,721.0 L564.3,724.3 L566.8,727.5 L569.3,730.5 L571.9,733.3 L574.4,736.0 L577.0,738.6 L579.5,741.0 L582.0,743.3 L584.6,745.4 L587.1,747.5 L589.6,749.4 L592.2,751.2 L594.7,752.9 L597.3,754.5 L599.8,756.1 L602.3,757.5 L604.9,758.8 L607.4,760.1 L609.9,761.2 L612.5,762.3 L615.0,763.3 L617.5,764.3 L620.1,765.2 L622.6,766.0 L625.2,766.8 L627.7,767.5 L630.2,768.1 L632.8,768.8 L635.3,769.3 L637.8,769.9 L640.4,770.4 L642.9,770.8 L645.5,771.2 L648.0,771.6 L650.5,772.0 L653.1,772.3 L655.6,772.6 L658.1,772.9 L660.7,773.1 L663.2,773.4 L665.7,773.6 L668.3,773.8 L670.8,774.0 L673.4,774.1 L675.9,774.3 L678.4,774.4 L681.0,774.6 L683.5,774.7 L686.0,774.8 L688.6,774.9 L691.1,775.0 L693.6,775.0 L696.2,775.1 L698.7,775.2 L701.3,775.2 L703.8,775.3 L706.3,775.3" stroke="#0B5BB0" stroke-width="5.0"/>
</g>
<g stroke="#000" stroke-width="5" fill="none">
<path d="M97.5,128.5 H828.1 M97.5,126 V778.2 M828.1,126 V782.5 M90,775.75 H830.6"/>
<path d="M90,162.5 H96"/>
<path d="M90,264.7 H96"/>
<path d="M90,366.9 H96"/>
<path d="M90,469.1 H96"/>
<path d="M90,571.3 H96"/>
<path d="M90,673.5 H96"/>
<path d="M97.5,776 V782.5"/>
<path d="M218.5,776 V782.5"/>
<path d="M342.25,776 V782.5"/>
<path d="M462.9,776 V782.5"/>
<path d="M585,776 V782.5"/>
<path d="M704.5,776 V782.5"/>
</g>
<text transform="translate(49.64,168.00) scale(0.9241,1)" font-size="34" fill="#000" stroke="#000" stroke-width="0.7" stroke-linejoin="round">30</text>
<text transform="translate(49.41,270.20) scale(0.9178,1)" font-size="34" fill="#000" stroke="#000" stroke-width="0.7" stroke-linejoin="round">25</text>
<text transform="translate(49.40,372.40) scale(0.9306,1)" font-size="34" fill="#000" stroke="#000" stroke-width="0.7" stroke-linejoin="round">20</text>
<text transform="translate(48.45,474.60) scale(0.9437,1)" font-size="34" fill="#000" stroke="#000" stroke-width="0.7" stroke-linejoin="round">15</text>
<text transform="translate(48.42,576.80) scale(0.9571,1)" font-size="34" fill="#000" stroke="#000" stroke-width="0.7" stroke-linejoin="round">10</text>
<text transform="translate(65.98,679.00) scale(0.9657,1)" font-size="34" fill="#000" stroke="#000" stroke-width="0.7" stroke-linejoin="round">5</text>
<text transform="translate(65.69,781.25) scale(1.0090,1)" font-size="34" fill="#000" stroke="#000" stroke-width="0.7" stroke-linejoin="round">0</text>
<text transform="translate(89.98,809.90) scale(1.0209,1)" font-size="34" fill="#000" stroke="#000" stroke-width="0.7" stroke-linejoin="round">0</text>
<text transform="translate(211.78,809.90) scale(0.9565,1)" font-size="34" fill="#000" stroke="#000" stroke-width="0.7" stroke-linejoin="round">2</text>
<text transform="translate(332.27,809.90) scale(0.9200,1)" font-size="34" fill="#000" stroke="#000" stroke-width="0.7" stroke-linejoin="round">4</text>
<text transform="translate(454.06,809.90) scale(0.9412,1)" font-size="34" fill="#000" stroke="#000" stroke-width="0.7" stroke-linejoin="round">6</text>
<text transform="translate(577.17,809.90) scale(0.9771,1)" font-size="34" fill="#000" stroke="#000" stroke-width="0.7" stroke-linejoin="round">8</text>
<text transform="translate(688.36,809.90) scale(0.9357,1)" font-size="34" fill="#000" stroke="#000" stroke-width="0.7" stroke-linejoin="round">10</text>
<text transform="translate(812.17,809.90) scale(0.9000,1)" font-size="34" fill="#000" stroke="#000" stroke-width="0.7" stroke-linejoin="round">12</text>
<text transform="translate(209.30,88.30) scale(0.9790,1)" font-size="34.8" fill="#000" stroke="#000" stroke-width="0.7" stroke-linejoin="round">TEM</text>
<text transform="translate(291.61,88.30) scale(0.9927,1)" font-size="34.8" fill="#000" stroke="#000" stroke-width="0.7" stroke-linejoin="round">Particle</text>
<text transform="translate(427.23,88.30) scale(0.8926,1)" font-size="34.8" fill="#000" stroke="#000" stroke-width="0.7" stroke-linejoin="round">Size</text>
<text transform="translate(499.68,88.30) scale(1.0115,1)" font-size="34.8" fill="#000" stroke="#000" stroke-width="0.7" stroke-linejoin="round">Distribution</text>
<text transform="translate(351.85,855.40) scale(1.0019,1)" font-size="32.6" fill="#000" stroke="#000" stroke-width="0.7" stroke-linejoin="round">Diameter (nm)</text>
<text transform="translate(23.70,526.35) rotate(-90) scale(0.9427,1)" font-size="32.6" fill="#000" stroke="#000" stroke-width="0.7" stroke-linejoin="round">Frequency</text>
<text transform="translate(15.82,98.00) scale(0.9133,1)" font-size="34" fill="#000" stroke="#000" stroke-width="0.7" stroke-linejoin="round">a)</text>
<text transform="translate(872.66,29.90) scale(0.9522,1)" font-size="39.6" fill="#000" stroke="#000" stroke-width="0.7" stroke-linejoin="round">b)</text>
<text transform="translate(872.88,497.90) scale(0.8961,1)" font-size="39.6" fill="#000" stroke="#000" stroke-width="0.7" stroke-linejoin="round">c)</text>
<path d="M583.6,164.8 H625" stroke="#000" stroke-width="5.2" fill="none"/>
<path d="M581.1,206 H593.1 M600.7,206 H612.9 M620,206 H627.4" stroke="#000" stroke-width="5.2" fill="none"/>
<text transform="translate(662.12,165.70) scale(0.8431,1)" font-size="33" fill="#000" stroke="#000" stroke-width="0.7" stroke-linejoin="round">BOL</text>
<text transform="translate(662.09,208.60) scale(0.8652,1)" font-size="33" fill="#000" stroke="#000" stroke-width="0.7" stroke-linejoin="round">EOT</text>
<text transform="translate(727.71,208.60) scale(0.9503,1)" font-size="33" fill="#000" stroke="#000" stroke-width="0.7" stroke-linejoin="round">(30k)</text>
<text transform="translate(149.07,225.70) scale(0.9314,1)" font-size="33" fill="#D2650A" stroke="#D2650A" stroke-width="0.7" stroke-linejoin="round">Pt/HSC-a</text>
<text transform="translate(115.29,353.30) scale(0.9174,1)" font-size="33" fill="#0B5BB0" stroke="#0B5BB0" stroke-width="0.7" stroke-linejoin="round">PtCo/HSC-a</text>
<text transform="translate(530.66,447.70) scale(0.9350,1)" font-size="33" fill="#D2650A" stroke="#D2650A" stroke-width="0.7" stroke-linejoin="round">Pt/HSC-a</text>
<text transform="translate(623.50,555.00) scale(0.9163,1)" font-size="33" fill="#0B5BB0" stroke="#0B5BB0" stroke-width="0.7" stroke-linejoin="round">PtCo/HSC-a</text>
<text transform="translate(943.60,55.70) scale(0.9355,1)" font-size="39" fill="#000" stroke="#000" stroke-width="0.7" stroke-linejoin="round">Pt (BOL)</text>
<text transform="translate(1406.21,55.40) scale(0.9287,1)" font-size="39" fill="#000" stroke="#000" stroke-width="0.7" stroke-linejoin="round">Pt (EOT)</text>
<text transform="translate(943.64,519.00) scale(0.9149,1)" font-size="39" fill="#000" stroke="#000" stroke-width="0.7" stroke-linejoin="round">PtCo (BOL)</text>
<text transform="translate(1405.83,519.00) scale(0.9185,1)" font-size="39" fill="#000" stroke="#000" stroke-width="0.7" stroke-linejoin="round">PtCo (EOT)</text>
</svg></body></html>
